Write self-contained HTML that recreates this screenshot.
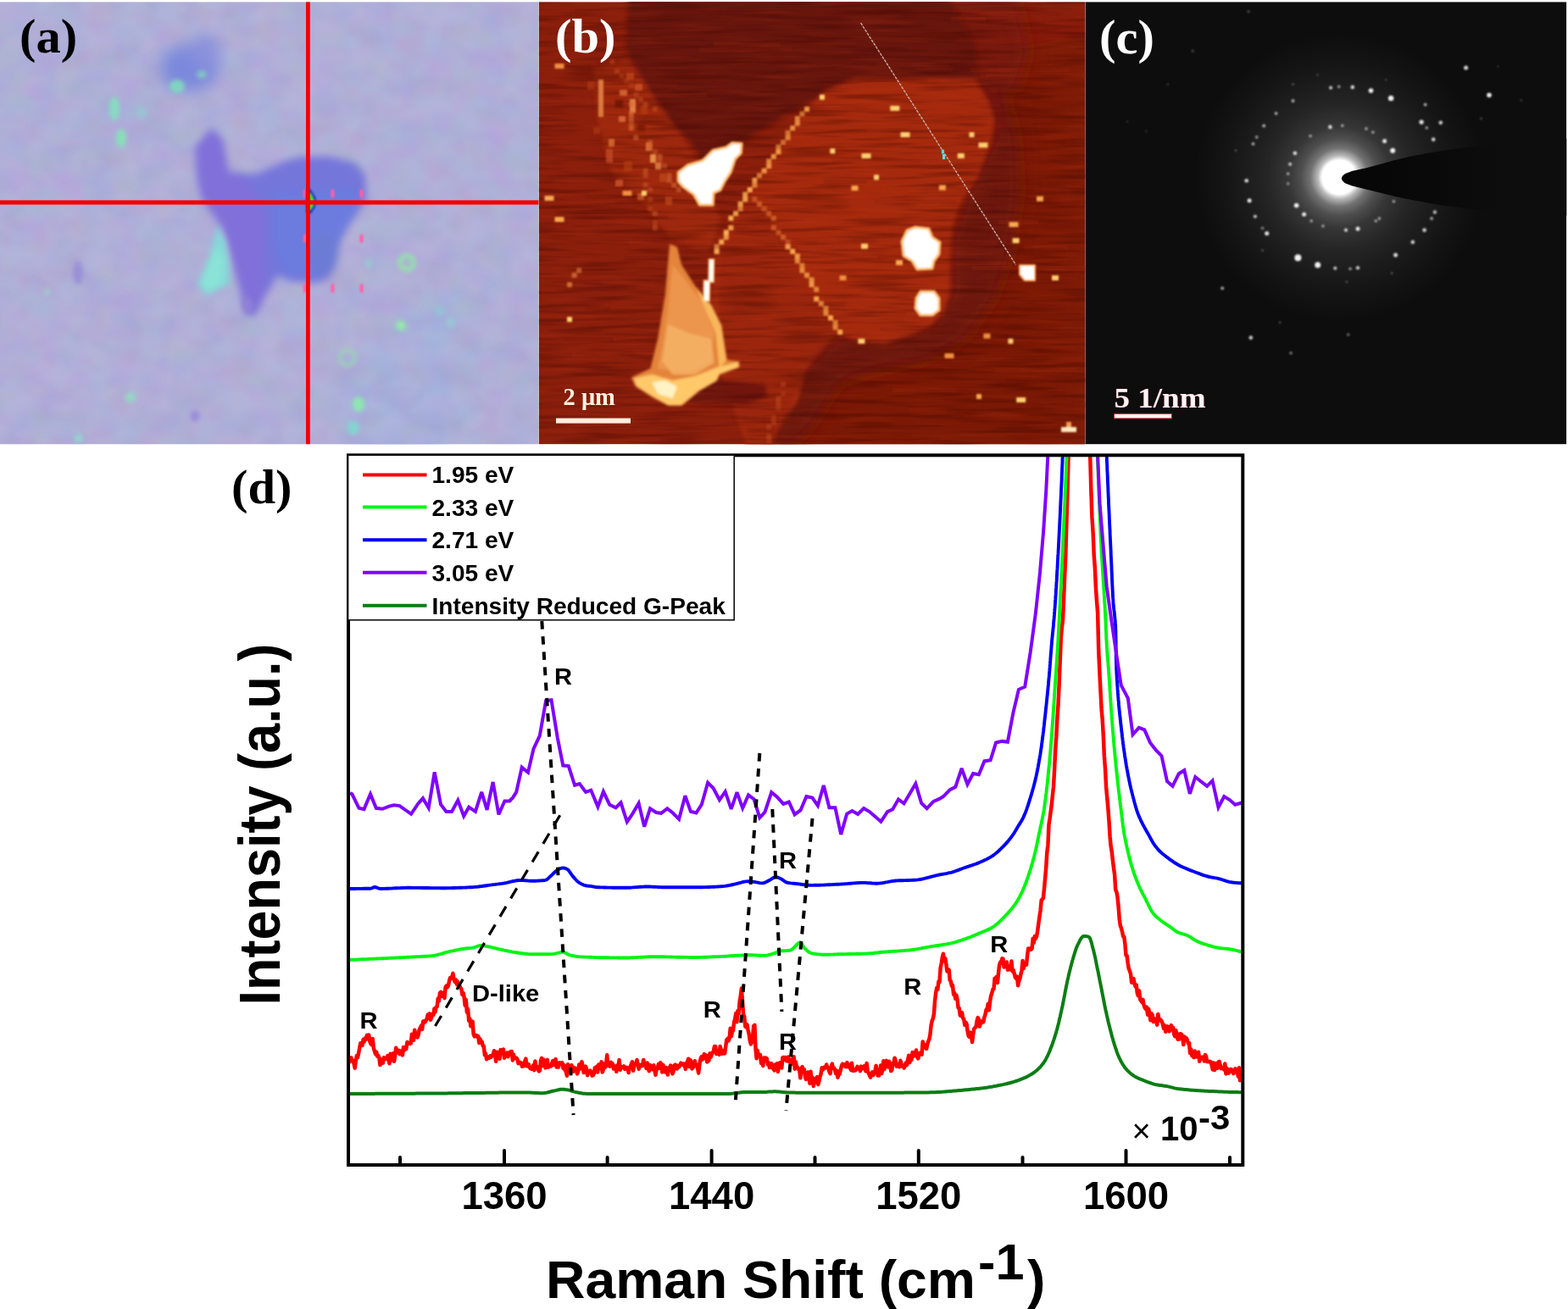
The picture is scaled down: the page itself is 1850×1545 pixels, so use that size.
<!DOCTYPE html>
<html lang="en"><head><meta charset="utf-8"><title>Figure</title>
<style>html,body{margin:0;padding:0;background:#fff;}body{width:1850px;height:1545px;overflow:hidden;}svg{display:block;}text{white-space:pre;}</style></head><body>
<svg width="1850" height="1545" viewBox="0 0 1850 1545">
<defs>
<filter id="blur1" x="-20%" y="-20%" width="140%" height="140%"><feGaussianBlur stdDeviation="0.8"/></filter>
<filter id="blur2" x="-20%" y="-20%" width="140%" height="140%"><feGaussianBlur stdDeviation="1.8"/></filter>
<filter id="blur3" x="-20%" y="-20%" width="140%" height="140%"><feGaussianBlur stdDeviation="2.6"/></filter>
<filter id="blur4" x="-30%" y="-30%" width="160%" height="160%"><feGaussianBlur stdDeviation="3.5"/></filter>
<filter id="blur5" x="-30%" y="-30%" width="160%" height="160%"><feGaussianBlur stdDeviation="5"/></filter>
<filter id="blur9" x="-50%" y="-50%" width="200%" height="200%"><feGaussianBlur stdDeviation="9"/></filter>
<filter id="blur12" x="-50%" y="-50%" width="200%" height="200%"><feGaussianBlur stdDeviation="11"/></filter>
<filter id="blur18" x="-50%" y="-50%" width="200%" height="200%"><feGaussianBlur stdDeviation="18"/></filter>
<filter id="nzA" x="0" y="0" width="100%" height="100%" color-interpolation-filters="sRGB"><feTurbulence type="fractalNoise" baseFrequency="0.03 0.035" numOctaves="2" seed="4"/><feColorMatrix type="matrix" values="1.6 0 0 0 -0.12  0 1.6 0 0 -0.13  0 0 1.6 0 0.05  0 0 0 0 0.055"/></filter>
<filter id="nzB" x="0" y="0" width="100%" height="100%" color-interpolation-filters="sRGB"><feTurbulence type="fractalNoise" baseFrequency="0.012 0.17" numOctaves="2" seed="9"/><feColorMatrix type="matrix" values="0 0 0 0 0.24  0 0 0 0 0.03  0 0 0 0 0.0  -3.2 0 0 0 1.75"/></filter>
<filter id="nzB2" x="0" y="0" width="100%" height="100%" color-interpolation-filters="sRGB"><feTurbulence type="fractalNoise" baseFrequency="0.014 0.17" numOctaves="2" seed="21"/><feColorMatrix type="matrix" values="0 0 0 0 0.86  0 0 0 0 0.26  0 0 0 0 0.1  -3.0 0 0 0 1.5"/></filter>
<radialGradient id="glowC"><stop offset="0" stop-color="#fff" stop-opacity="1"/>
<stop offset="0.115" stop-color="#fff" stop-opacity="1"/><stop offset="0.15" stop-color="#fff" stop-opacity="0.7"/>
<stop offset="0.2" stop-color="#fff" stop-opacity="0.42"/><stop offset="0.265" stop-color="#fff" stop-opacity="0.27"/>
<stop offset="0.35" stop-color="#fff" stop-opacity="0.17"/><stop offset="0.5" stop-color="#fff" stop-opacity="0.10"/>
<stop offset="0.635" stop-color="#fff" stop-opacity="0.065"/><stop offset="0.8" stop-color="#fff" stop-opacity="0.03"/>
<stop offset="1" stop-color="#fff" stop-opacity="0"/></radialGradient>
<radialGradient id="coreC"><stop offset="0" stop-color="#fff"/><stop offset="0.7" stop-color="#fff"/>
<stop offset="1" stop-color="#fff" stop-opacity="0"/></radialGradient>
<linearGradient id="wedgeC" gradientUnits="userSpaceOnUse" x1="1583" y1="0" x2="1848" y2="0">
<stop offset="0" stop-color="#060606"/><stop offset="0.4" stop-color="#090909"/>
<stop offset="0.7" stop-color="#0d0d0d"/><stop offset="1" stop-color="#0d0d0d"/></linearGradient>
</defs>
<rect x="0" y="0" width="1850" height="1545" fill="#ffffff"/>
<clipPath id="clipA"><rect x="0.0" y="2.2" width="635.7" height="522.1999999999999"/></clipPath>
<g clip-path="url(#clipA)">
<rect x="0.0" y="2.2" width="635.7" height="522.1999999999999" fill="#b0afd7"/>
<g filter="url(#blur18)">
<ellipse cx="470" cy="470" rx="80" ry="60" fill="#a2b0dc" opacity="0.6"/>
<ellipse cx="520" cy="375" rx="45" ry="30" fill="#a0b4dc" opacity="0.6"/>
<ellipse cx="130" cy="140" rx="60" ry="50" fill="#a8b0d8" opacity="0.5"/>
<ellipse cx="80" cy="420" rx="80" ry="60" fill="#b4aeda" opacity="0.5"/>
</g>
<rect x="0.0" y="2.2" width="635.7" height="522.1999999999999" filter="url(#nzA)"/>
<g filter="url(#blur9)">
<ellipse cx="224" cy="80" rx="35" ry="28" fill="#7a88dc"/>
<ellipse cx="243" cy="62" rx="18" ry="22" fill="#8a90dc"/>
</g>
<g filter="url(#blur5)">
<polygon points="249.2,150.8 230.2,173.2 231.9,207.8 237.1,233.8 252.6,254.5 261.3,268.4 269.9,294.3 276.9,320.3 283.8,346.2 290.7,372.2 301.1,372.2 314.9,346.2 327.0,325.5 344.3,332.4 370.3,334.1 387.6,328.9 396.2,311.6 401.4,285.7 410.1,268.4 422.2,251.1 432.5,233.8 430.8,206.1 418.7,192.3 387.6,184.5 353.0,185.4 335.7,190.5 301.1,206.1 269.9,202.6 263.0,164.6" fill="#7576da" />
<polygon points="249.2,152.5 231.9,175.0 233.6,207.8 238.8,233.8 261.3,264.9 276.9,318.5 290.7,368.7 301.1,368.7 311.5,346.2 311.5,251.1 290.7,211.3 269.9,204.4 263.0,166.3" fill="#8470d8" opacity="0.85"/>
<polygon points="321.8,226.9 418.7,219.9 422.2,247.6 401.4,282.2 392.8,313.4 370.3,328.9 335.7,323.7 321.8,285.7" fill="#6c7cde" opacity="0.9"/>
<ellipse cx="383" cy="300" rx="16" ry="26" fill="#6c7cd0" opacity="0.7"/>
</g>
<g filter="url(#blur4)">
<polygon points="257.0,266.6 249.2,294.3 233.6,335.8 244.0,348.8 269.9,335.8 270.8,311.6 266.5,285.7" fill="#84d8d8" />
<polygon points="254.4,294.3 237.1,334.1 245.7,344.5 261.3,334.1 264.8,303.0" fill="#8be4d6" opacity="0.9"/>
</g>
<g filter="url(#blur3)">
<ellipse cx="209" cy="102" rx="9" ry="8" fill="#7fd6c0" opacity="0.95"/>
<ellipse cx="238" cy="88" rx="6" ry="5" fill="#84cfc0" opacity="0.8"/>
<ellipse cx="135" cy="128" rx="6" ry="14" fill="#86dcc0" opacity="0.95"/>
<ellipse cx="143" cy="163" rx="6" ry="11" fill="#86e0b8" opacity="0.95"/>
<ellipse cx="167" cy="133" rx="6" ry="6" fill="#90cdd0" opacity="0.7"/>
<ellipse cx="473" cy="384.4" rx="6" ry="6" fill="#8ee2a8" opacity="1"/>
<ellipse cx="423" cy="477" rx="7" ry="9" fill="#8ee6b0" opacity="1"/>
<ellipse cx="417" cy="505" rx="7" ry="8" fill="#80d6d0" opacity="0.95"/>
<ellipse cx="154" cy="469" rx="6" ry="6" fill="#90dcc0" opacity="0.9"/>
<ellipse cx="92.5" cy="517.5" rx="5" ry="5" fill="#90dcc8" opacity="0.9"/>
<ellipse cx="56" cy="344.6" rx="4" ry="5" fill="#a0d0c8" opacity="0.7"/>
<ellipse cx="519" cy="367" rx="6" ry="6" fill="#90c8d4" opacity="0.7"/>
<ellipse cx="532" cy="381" rx="5" ry="7" fill="#90d0d0" opacity="0.7"/>
<ellipse cx="435" cy="311" rx="4" ry="6" fill="#90d0d0" opacity="0.7"/>
<ellipse cx="472.4" cy="383.4" rx="3" ry="3" fill="#a0f0b0" opacity="0.8"/>
<circle cx="480" cy="310" r="8" fill="none" stroke="#96dcae" stroke-width="6"/>
<circle cx="410" cy="422" r="9" fill="none" stroke="#9cd2b8" stroke-width="5" opacity="0.8"/>
<ellipse cx="92" cy="322" rx="6" ry="14" fill="#978fd8" opacity="0.9"/>
<ellipse cx="230" cy="491" rx="6" ry="7" fill="#9a8cd8" opacity="0.9"/>
<ellipse cx="292" cy="360" rx="7" ry="10" fill="#9080d8" opacity="0.8"/>
</g>
<g fill="#ff5fa8" filter="url(#blur1)">
<rect x="357.9" y="223.6" width="4" height="10" rx="1.5"/>
<rect x="357.9" y="276.4" width="4" height="10" rx="1.5"/>
<rect x="357.9" y="335.2" width="4" height="10" rx="1.5"/>
<rect x="390.4" y="223.6" width="4" height="10" rx="1.5"/>
<rect x="390.4" y="335.2" width="4" height="10" rx="1.5"/>
<rect x="424.5" y="223.6" width="4" height="10" rx="1.5"/>
<rect x="424.5" y="276.4" width="4" height="10" rx="1.5"/>
<rect x="424.5" y="335.2" width="4" height="10" rx="1.5"/>
</g>
<path d="M361,224 l5,-1 l7,11 l-1,10 l-5,8 l-6,-1 z" fill="#1b2fd0" filter="url(#blur1)"/>
<path d="M364,228 l3,0 l4,8 l-1,7 l-3,5 l-3,0 z" fill="#3ce030" filter="url(#blur1)"/>
<rect x="0.0" y="236.4" width="635.7" height="5.1" fill="#f40000"/>
<rect x="361.0" y="2.2" width="4.8" height="522.1999999999999" fill="#f40000"/>
<text transform="translate(23.0,62.0) scale(1.045,1.0)" font-family='"Liberation Serif", serif' font-weight="bold" font-size="56" fill="#000" text-anchor="start" >(a)</text>
</g>
<clipPath id="clipB"><rect x="635.7" y="2.2" width="644.5999999999999" height="522.1999999999999"/></clipPath>
<g clip-path="url(#clipB)">
<rect x="635.7" y="2.2" width="644.5999999999999" height="522.1999999999999" fill="#8b1f0c"/>
<g filter="url(#blur18)">
<polygon points="1175.0,60.0 1290.0,40.0 1290.0,540.0 900.0,540.0 930.0,470.0 1000.0,430.0 1120.0,400.0 1180.0,330.0 1195.0,200.0" fill="#701608" opacity="0.55"/>
</g>
<g filter="url(#blur12)">
<polygon points="1100.0,0.0 1200.0,0.0 1215.0,60.0 1200.0,110.0 1150.0,100.0 1100.0,95.0" fill="#74180a" opacity="0.85"/>
<polygon points="1150.0,95.0 1185.0,112.0 1200.0,160.0 1203.0,230.0 1192.0,300.0 1172.0,355.0 1140.0,400.0 1095.0,425.0 1040.0,436.0 990.0,452.0 962.0,498.0 938.0,524.0 905.0,524.0 940.0,440.0 990.0,395.0 1096.0,386.0 1121.0,345.0 1122.0,280.0 1140.0,228.0 1170.0,166.0 1173.0,140.0" fill="#6a1408" opacity="0.9"/>
</g>
<g filter="url(#blur3)">
<polygon points="741.0,0.0 1120.0,0.0 1150.0,50.0 1152.0,93.0 1008.0,93.0 960.0,118.0 890.0,158.0 850.0,185.0 838.0,200.0 812.0,164.0 786.0,139.0 764.0,102.0 738.0,58.0" fill="#68140a" />
<polygon points="1008.5,92.8 1150.4,92.8 1157.4,105.0 1166.0,119.0 1173.0,140.0 1169.7,166.4 1162.7,184.0 1154.0,210.0 1140.0,227.7 1131.0,245.0 1124.0,265.0 1122.4,280.0 1120.6,303.8 1121.0,345.0 1113.6,368.6 1096.0,386.0 1069.8,396.6 1043.6,405.4 1008.5,401.9 989.0,394.0 975.0,400.0 962.0,412.0 950.0,439.0 941.0,474.0 927.0,491.0 910.0,524.0 880.0,524.0 862.0,470.0 850.0,440.0 846.0,380.0 838.0,355.0 845.0,300.0 860.0,268.0 885.0,224.0 920.0,175.0 951.0,130.0 973.5,106.8" fill="#a52a10" />
<polygon points="850.0,300.0 885.0,230.0 930.0,290.0 985.0,392.0 950.0,440.0 912.0,520.0 882.0,520.0 862.0,470.0 848.0,380.0" fill="#98270f" opacity="0.8"/>
<polygon points="826.0,452.0 850.0,447.0 903.0,452.0 905.0,468.0 880.0,478.0 810.0,476.0" fill="#6e1508" opacity="0.9"/>
<polygon points="700.0,80.0 740.0,70.0 790.0,140.0 830.0,200.0 850.0,260.0 835.0,300.0 790.0,280.0 760.0,240.0 720.0,200.0 705.0,140.0" fill="#a02c12" opacity="0.85"/>
</g>
<g opacity="0.35">
<rect x="711" y="410" width="112" height="5" fill="#b03014" opacity="0.30"/>
<rect x="1178" y="260" width="48" height="5" fill="#b03014" opacity="0.58"/>
<rect x="999" y="446" width="101" height="5" fill="#6e1608" opacity="0.35"/>
<rect x="716" y="194" width="135" height="5" fill="#6e1608" opacity="0.43"/>
<rect x="1113" y="434" width="158" height="5" fill="#b03014" opacity="0.44"/>
<rect x="918" y="284" width="82" height="5" fill="#6e1608" opacity="0.33"/>
<rect x="1105" y="458" width="55" height="5" fill="#b03014" opacity="0.35"/>
<rect x="684" y="446" width="148" height="5" fill="#b03014" opacity="0.30"/>
<rect x="1029" y="44" width="148" height="5" fill="#b03014" opacity="0.26"/>
<rect x="753" y="110" width="81" height="5" fill="#b03014" opacity="0.57"/>
<rect x="1043" y="386" width="42" height="5" fill="#b03014" opacity="0.60"/>
<rect x="904" y="176" width="123" height="5" fill="#b03014" opacity="0.26"/>
<rect x="1130" y="44" width="77" height="5" fill="#b03014" opacity="0.28"/>
<rect x="737" y="302" width="43" height="5" fill="#6e1608" opacity="0.41"/>
<rect x="710" y="332" width="63" height="5" fill="#b03014" opacity="0.46"/>
<rect x="1159" y="380" width="43" height="5" fill="#6e1608" opacity="0.32"/>
<rect x="690" y="362" width="75" height="5" fill="#6e1608" opacity="0.42"/>
<rect x="1134" y="14" width="66" height="5" fill="#b03014" opacity="0.34"/>
<rect x="1208" y="194" width="81" height="5" fill="#b03014" opacity="0.36"/>
<rect x="1072" y="482" width="45" height="5" fill="#b03014" opacity="0.39"/>
<rect x="779" y="92" width="129" height="5" fill="#6e1608" opacity="0.48"/>
<rect x="1040" y="434" width="134" height="5" fill="#6e1608" opacity="0.30"/>
<rect x="1002" y="92" width="93" height="5" fill="#6e1608" opacity="0.56"/>
<rect x="1080" y="80" width="44" height="5" fill="#b03014" opacity="0.31"/>
<rect x="1220" y="80" width="69" height="5" fill="#b03014" opacity="0.27"/>
<rect x="1145" y="80" width="116" height="5" fill="#b03014" opacity="0.42"/>
<rect x="682" y="122" width="68" height="5" fill="#b03014" opacity="0.29"/>
<rect x="960" y="314" width="116" height="5" fill="#b03014" opacity="0.48"/>
<rect x="842" y="50" width="78" height="5" fill="#b03014" opacity="0.57"/>
<rect x="703" y="74" width="50" height="5" fill="#6e1608" opacity="0.59"/>
<rect x="1166" y="212" width="48" height="5" fill="#6e1608" opacity="0.49"/>
<rect x="720" y="362" width="96" height="5" fill="#b03014" opacity="0.53"/>
<rect x="1056" y="308" width="131" height="5" fill="#b03014" opacity="0.53"/>
<rect x="781" y="416" width="57" height="5" fill="#b03014" opacity="0.42"/>
<rect x="803" y="278" width="112" height="5" fill="#b03014" opacity="0.47"/>
<rect x="845" y="314" width="128" height="5" fill="#b03014" opacity="0.53"/>
<rect x="878" y="356" width="121" height="5" fill="#6e1608" opacity="0.34"/>
<rect x="1208" y="290" width="52" height="5" fill="#b03014" opacity="0.44"/>
<rect x="652" y="254" width="136" height="5" fill="#6e1608" opacity="0.47"/>
<rect x="1163" y="86" width="131" height="5" fill="#b03014" opacity="0.48"/>
<rect x="835" y="260" width="86" height="5" fill="#b03014" opacity="0.56"/>
<rect x="1039" y="386" width="129" height="5" fill="#6e1608" opacity="0.52"/>
<rect x="898" y="494" width="48" height="5" fill="#6e1608" opacity="0.54"/>
<rect x="1048" y="296" width="136" height="5" fill="#b03014" opacity="0.56"/>
<rect x="699" y="260" width="85" height="5" fill="#b03014" opacity="0.47"/>
<rect x="902" y="452" width="91" height="5" fill="#6e1608" opacity="0.30"/>
<rect x="996" y="98" width="103" height="5" fill="#b03014" opacity="0.30"/>
<rect x="935" y="218" width="143" height="5" fill="#b03014" opacity="0.25"/>
<rect x="675" y="416" width="157" height="5" fill="#b03014" opacity="0.60"/>
<rect x="949" y="242" width="54" height="5" fill="#b03014" opacity="0.32"/>
<rect x="1053" y="458" width="75" height="5" fill="#b03014" opacity="0.55"/>
<rect x="1084" y="284" width="92" height="5" fill="#b03014" opacity="0.51"/>
<rect x="1203" y="434" width="59" height="5" fill="#b03014" opacity="0.43"/>
<rect x="677" y="44" width="46" height="5" fill="#b03014" opacity="0.39"/>
<rect x="1068" y="356" width="44" height="5" fill="#b03014" opacity="0.41"/>
<rect x="1147" y="314" width="150" height="5" fill="#b03014" opacity="0.56"/>
<rect x="1179" y="158" width="130" height="5" fill="#b03014" opacity="0.30"/>
<rect x="972" y="212" width="50" height="5" fill="#6e1608" opacity="0.53"/>
<rect x="1171" y="236" width="54" height="5" fill="#6e1608" opacity="0.55"/>
<rect x="1201" y="236" width="111" height="5" fill="#6e1608" opacity="0.38"/>
<rect x="743" y="284" width="126" height="5" fill="#b03014" opacity="0.49"/>
<rect x="929" y="152" width="94" height="5" fill="#6e1608" opacity="0.31"/>
<rect x="920" y="134" width="152" height="5" fill="#b03014" opacity="0.37"/>
<rect x="734" y="86" width="111" height="5" fill="#b03014" opacity="0.29"/>
<rect x="655" y="248" width="110" height="5" fill="#6e1608" opacity="0.57"/>
<rect x="1169" y="206" width="152" height="5" fill="#6e1608" opacity="0.42"/>
<rect x="942" y="308" width="88" height="5" fill="#b03014" opacity="0.53"/>
<rect x="780" y="206" width="44" height="5" fill="#b03014" opacity="0.50"/>
<rect x="891" y="50" width="119" height="5" fill="#b03014" opacity="0.25"/>
<rect x="982" y="188" width="104" height="5" fill="#6e1608" opacity="0.40"/>
<rect x="1095" y="134" width="43" height="5" fill="#6e1608" opacity="0.33"/>
<rect x="675" y="14" width="55" height="5" fill="#b03014" opacity="0.37"/>
<rect x="965" y="284" width="84" height="5" fill="#b03014" opacity="0.45"/>
<rect x="637" y="458" width="86" height="5" fill="#b03014" opacity="0.39"/>
<rect x="665" y="398" width="115" height="5" fill="#6e1608" opacity="0.59"/>
<rect x="843" y="290" width="119" height="5" fill="#b03014" opacity="0.33"/>
<rect x="1156" y="476" width="153" height="5" fill="#6e1608" opacity="0.57"/>
<rect x="711" y="386" width="42" height="5" fill="#b03014" opacity="0.39"/>
<rect x="1038" y="38" width="102" height="5" fill="#6e1608" opacity="0.27"/>
<rect x="1032" y="230" width="46" height="5" fill="#b03014" opacity="0.50"/>
<rect x="1035" y="302" width="75" height="5" fill="#6e1608" opacity="0.35"/>
<rect x="654" y="212" width="70" height="5" fill="#b03014" opacity="0.53"/>
<rect x="707" y="458" width="66" height="5" fill="#b03014" opacity="0.45"/>
<rect x="816" y="500" width="86" height="5" fill="#b03014" opacity="0.39"/>
<rect x="650" y="98" width="149" height="5" fill="#b03014" opacity="0.34"/>
<rect x="1033" y="122" width="146" height="5" fill="#b03014" opacity="0.38"/>
<rect x="1053" y="230" width="114" height="5" fill="#b03014" opacity="0.31"/>
<rect x="1079" y="410" width="125" height="5" fill="#6e1608" opacity="0.52"/>
<rect x="882" y="506" width="147" height="5" fill="#6e1608" opacity="0.45"/>
<rect x="1034" y="74" width="86" height="5" fill="#b03014" opacity="0.45"/>
<rect x="918" y="368" width="152" height="5" fill="#6e1608" opacity="0.39"/>
<rect x="853" y="368" width="151" height="5" fill="#b03014" opacity="0.53"/>
<rect x="690" y="230" width="102" height="5" fill="#6e1608" opacity="0.56"/>
<rect x="725" y="236" width="114" height="5" fill="#6e1608" opacity="0.30"/>
<rect x="1123" y="422" width="155" height="5" fill="#b03014" opacity="0.43"/>
<rect x="825" y="290" width="117" height="5" fill="#6e1608" opacity="0.43"/>
<rect x="826" y="122" width="85" height="5" fill="#6e1608" opacity="0.41"/>
<rect x="914" y="260" width="71" height="5" fill="#b03014" opacity="0.58"/>
<rect x="819" y="56" width="111" height="5" fill="#6e1608" opacity="0.31"/>
<rect x="1186" y="446" width="133" height="5" fill="#6e1608" opacity="0.50"/>
<rect x="1058" y="290" width="116" height="5" fill="#b03014" opacity="0.26"/>
<rect x="1031" y="236" width="97" height="5" fill="#6e1608" opacity="0.34"/>
<rect x="1114" y="404" width="148" height="5" fill="#6e1608" opacity="0.31"/>
<rect x="732" y="506" width="67" height="5" fill="#b03014" opacity="0.29"/>
<rect x="724" y="398" width="152" height="5" fill="#b03014" opacity="0.47"/>
<rect x="901" y="14" width="129" height="5" fill="#6e1608" opacity="0.38"/>
<rect x="949" y="248" width="74" height="5" fill="#b03014" opacity="0.36"/>
<rect x="825" y="56" width="109" height="5" fill="#b03014" opacity="0.36"/>
<rect x="1122" y="20" width="41" height="5" fill="#b03014" opacity="0.55"/>
<rect x="1006" y="14" width="127" height="5" fill="#6e1608" opacity="0.33"/>
</g>
<rect x="635.7" y="2.2" width="644.5999999999999" height="522.1999999999999" filter="url(#nzB)" opacity="0.32"/>
<rect x="635.7" y="2.2" width="644.5999999999999" height="522.1999999999999" filter="url(#nzB2)" opacity="0.13"/>
<g filter="url(#blur2)">
<polygon points="790.1,288.0 784.9,347.6 776.1,400.1 767.4,435.1 744.6,445.6 749.8,456.2 769.1,468.4 788.4,478.9 804.1,478.9 825.1,461.4 846.2,449.1 849.7,440.4 872.4,433.4 872.4,426.4 856.7,424.6 849.7,382.6 837.4,358.1 819.9,337.1 804.1,312.5 798.9,291.5" fill="#e4843a" />
<polygon points="793.6,312.5 788.4,365.1 781.4,408.9 776.1,435.1 811.1,438.6 837.4,426.4 842.7,393.1 828.6,358.1 807.6,330.1" fill="#ec9850" opacity="0.9"/>
<polygon points="748.1,446.5 769.1,442.1 793.6,449.1 819.9,443.9 846.2,433.4 870.7,427.3 871.6,433.4 848.8,442.1 844.4,450.0 824.3,461.4 804.1,478.0 788.4,478.0 769.1,467.5 750.7,455.3" fill="#ffc868" />
<polygon points="769.1,450.9 784.9,449.1 798.9,456.2 793.6,470.2 776.1,464.9" fill="#fff2c4" />
<polygon points="788.4,382.6 781.4,426.4 793.6,442.1 819.9,442.1 842.7,428.1 839.2,400.1 811.1,393.1" fill="#f6b468" opacity="0.8"/>
<polygon points="821.6,340.6 839.2,359.8 851.4,384.3 857.5,424.6 848.8,435.1 844.4,393.1 830.4,361.6" fill="#fbbc60" opacity="0.9"/>
</g>
<g filter="url(#blur1)">
<polygon points="863.9,168.4 875.2,169.3 874.4,180.7 867.4,187.7 862.1,203.4 855.2,213.9 849.9,224.4 842.0,227.9 841.2,241.9 825.4,241.9 818.4,229.6 806.2,220.9 800.1,213.9 800.1,203.4 811.5,194.7 828.9,189.4 841.2,177.2 856.9,173.7" fill="#ffffff" stroke="#ffc070" stroke-width="3" stroke-linejoin="round"/>
<polygon points="1064.0,285.0 1070.0,272.0 1080.0,268.0 1096.0,270.0 1100.0,280.0 1109.0,286.0 1108.0,300.0 1102.0,308.0 1100.0,317.0 1082.0,318.0 1076.0,308.0 1066.0,302.0" fill="#ffffff" stroke="#ffc070" stroke-width="3" stroke-linejoin="round"/>
<polygon points="1086.0,344.0 1102.0,344.0 1108.0,352.0 1108.0,366.0 1100.0,372.0 1086.0,372.0 1080.0,364.0 1081.0,352.0" fill="#ffffff" stroke="#ffc070" stroke-width="3" stroke-linejoin="round"/>
<polygon points="1203.0,313.0 1221.0,313.0 1221.0,331.0 1209.0,331.0 1203.0,324.0" fill="#ffffff" stroke="#ffb060" stroke-width="2" stroke-linejoin="round"/>
<polygon points="836.5,306.0 842.5,306.0 842.0,333.0 837.5,333.0 837.0,355.5 830.0,355.5 830.5,331.0 836.0,331.0" fill="#ffffff" stroke="#ffc070" stroke-width="1.5"/>
</g>
<g filter="url(#blur1)">
<rect x="949.0" y="125.8" width="6" height="6" fill="#f5a048" opacity="0.92"/>
<rect x="943.4" y="131.4" width="6" height="6" fill="#f5a048" opacity="0.66"/>
<rect x="937.8" y="137.0" width="6" height="6" fill="#f5a048" opacity="0.77"/>
<rect x="937.8" y="142.6" width="6" height="6" fill="#f5a048" opacity="0.83"/>
<rect x="932.2" y="148.2" width="6" height="6" fill="#f5a048" opacity="0.87"/>
<rect x="926.6" y="153.8" width="6" height="6" fill="#f5a048" opacity="0.66"/>
<rect x="926.6" y="159.4" width="6" height="6" fill="#f5a048" opacity="0.75"/>
<rect x="921.0" y="165.0" width="6" height="6" fill="#f5a048" opacity="0.59"/>
<rect x="915.4" y="170.6" width="6" height="6" fill="#f5a048" opacity="0.68"/>
<rect x="915.4" y="176.2" width="6" height="6" fill="#f5a048" opacity="0.94"/>
<rect x="909.8" y="181.8" width="6" height="6" fill="#f5a048" opacity="0.91"/>
<rect x="904.2" y="187.4" width="6" height="6" fill="#f5a048" opacity="0.79"/>
<rect x="904.2" y="193.0" width="6" height="6" fill="#f5a048" opacity="0.87"/>
<rect x="898.6" y="198.6" width="6" height="6" fill="#f5a048" opacity="0.91"/>
<rect x="893.0" y="204.2" width="6" height="6" fill="#f5a048" opacity="0.70"/>
<rect x="887.4" y="209.8" width="6" height="6" fill="#f5a048" opacity="0.94"/>
<rect x="887.4" y="215.4" width="6" height="6" fill="#f5a048" opacity="0.74"/>
<rect x="881.8" y="221.0" width="6" height="6" fill="#f5a048" opacity="0.63"/>
<rect x="881.8" y="221.0" width="6" height="6" fill="#ffb858" opacity="0.77"/>
<rect x="876.2" y="226.6" width="6" height="6" fill="#ffb858" opacity="0.80"/>
<rect x="876.2" y="232.2" width="6" height="6" fill="#ffb858" opacity="0.83"/>
<rect x="870.6" y="237.8" width="6" height="6" fill="#ffb858" opacity="0.82"/>
<rect x="870.6" y="243.4" width="6" height="6" fill="#ffb858" opacity="0.59"/>
<rect x="865.0" y="249.0" width="6" height="6" fill="#ffb858" opacity="0.81"/>
<rect x="859.4" y="254.6" width="6" height="6" fill="#ffb858" opacity="0.92"/>
<rect x="859.4" y="265.8" width="6" height="6" fill="#ffb858" opacity="0.82"/>
<rect x="853.8" y="271.4" width="6" height="6" fill="#ffb858" opacity="0.94"/>
<rect x="853.8" y="277.0" width="6" height="6" fill="#ffb858" opacity="0.76"/>
<rect x="848.2" y="282.6" width="6" height="6" fill="#ffb858" opacity="0.88"/>
<rect x="842.6" y="288.2" width="6" height="6" fill="#ffb858" opacity="0.62"/>
<rect x="842.6" y="293.8" width="6" height="6" fill="#ffb858" opacity="0.91"/>
<rect x="887.4" y="232.2" width="6" height="6" fill="#d86a30" opacity="0.62"/>
<rect x="893.0" y="237.8" width="6" height="6" fill="#d86a30" opacity="0.76"/>
<rect x="898.6" y="243.4" width="6" height="6" fill="#d86a30" opacity="0.58"/>
<rect x="904.2" y="249.0" width="6" height="6" fill="#d86a30" opacity="0.68"/>
<rect x="909.8" y="254.6" width="6" height="6" fill="#d86a30" opacity="0.75"/>
<rect x="909.8" y="265.8" width="6" height="6" fill="#d86a30" opacity="0.71"/>
<rect x="915.4" y="271.4" width="6" height="6" fill="#d86a30" opacity="0.68"/>
<rect x="921.0" y="277.0" width="6" height="6" fill="#d86a30" opacity="0.79"/>
<rect x="926.6" y="282.6" width="6" height="6" fill="#d86a30" opacity="0.51"/>
<rect x="926.6" y="288.2" width="6" height="6" fill="#d86a30" opacity="0.51"/>
<rect x="926.6" y="288.2" width="6" height="6" fill="#ffb050" opacity="0.78"/>
<rect x="932.2" y="293.8" width="6" height="6" fill="#ffb050" opacity="0.93"/>
<rect x="937.8" y="299.4" width="6" height="6" fill="#ffb050" opacity="0.83"/>
<rect x="937.8" y="305.0" width="6" height="6" fill="#ffb050" opacity="0.69"/>
<rect x="943.4" y="310.6" width="6" height="6" fill="#ffb050" opacity="0.61"/>
<rect x="943.4" y="316.2" width="6" height="6" fill="#ffb050" opacity="0.74"/>
<rect x="949.0" y="321.8" width="6" height="6" fill="#ffb050" opacity="0.75"/>
<rect x="954.6" y="327.4" width="6" height="6" fill="#ffb050" opacity="0.75"/>
<rect x="954.6" y="333.0" width="6" height="6" fill="#ffb050" opacity="0.81"/>
<rect x="960.2" y="338.6" width="6" height="6" fill="#ffb050" opacity="0.67"/>
<rect x="960.2" y="349.8" width="6" height="6" fill="#ffb050" opacity="0.90"/>
<rect x="965.8" y="355.4" width="6" height="6" fill="#ffb050" opacity="0.68"/>
<rect x="971.4" y="361.0" width="6" height="6" fill="#ffb050" opacity="0.61"/>
<rect x="971.4" y="366.6" width="6" height="6" fill="#ffb050" opacity="0.70"/>
<rect x="977.0" y="372.2" width="6" height="6" fill="#ffb050" opacity="0.93"/>
<rect x="982.6" y="377.8" width="6" height="6" fill="#ffb050" opacity="0.63"/>
<rect x="982.6" y="383.4" width="6" height="6" fill="#ffb050" opacity="0.68"/>
<rect x="988.2" y="389.0" width="6" height="6" fill="#ffb050" opacity="0.92"/>
<rect x="706" y="94" width="6" height="44" fill="#e88848" opacity="0.85"/>
<rect x="743" y="117" width="7" height="16" fill="#ee9050" opacity="0.85"/>
<rect x="731" y="106" width="9" height="7" fill="#e07038" opacity="0.8"/>
<rect x="730" y="137" width="8" height="7" fill="#e07038" opacity="0.8"/>
<rect x="749" y="99" width="9" height="8" fill="#d05828" opacity="0.7"/>
<rect x="739" y="86" width="9" height="8" fill="#c84c20" opacity="0.7"/>
<rect x="718" y="164" width="7" height="9" fill="#e07838" opacity="0.75"/>
<rect x="762" y="168" width="7" height="10" fill="#e88040" opacity="0.8"/>
<rect x="767" y="182" width="7" height="10" fill="#f0a050" opacity="0.85"/>
<rect x="773" y="192" width="7" height="8" fill="#e88848" opacity="0.8"/>
<rect x="726" y="212" width="9" height="8" fill="#d86030" opacity="0.7"/>
<rect x="715" y="176" width="8" height="16" fill="#c85028" opacity="0.7"/>
<rect x="726" y="118" width="9" height="9" fill="#641006" opacity="0.7"/>
<rect x="752" y="146" width="9" height="9" fill="#6a1206" opacity="0.6"/>
<rect x="693" y="96" width="8" height="10" fill="#b43c18" opacity="0.6"/>
<rect x="778" y="205" width="8" height="10" fill="#c04820" opacity="0.7"/>
<rect x="736" y="190" width="10" height="12" fill="#b84018" opacity="0.6"/>
<rect x="752" y="228" width="8" height="8" fill="#d06028" opacity="0.7"/>
<rect x="785" y="232" width="8" height="10" fill="#c85020" opacity="0.6"/>
<rect x="700" y="150" width="8" height="8" fill="#b03c18" opacity="0.6"/>
<rect x="756" y="125" width="8" height="10" fill="#b84018" opacity="0.6"/>
<rect x="764.2" y="165.0" width="6" height="6" fill="#d06030" opacity="0.52"/>
<rect x="764.2" y="170.6" width="6" height="6" fill="#d06030" opacity="0.66"/>
<rect x="769.8" y="176.2" width="6" height="6" fill="#d06030" opacity="0.43"/>
<rect x="775.4" y="181.8" width="6" height="6" fill="#d06030" opacity="0.67"/>
<rect x="775.4" y="187.4" width="6" height="6" fill="#d06030" opacity="0.49"/>
<rect x="781.0" y="193.0" width="6" height="6" fill="#d06030" opacity="0.47"/>
<rect x="786.6" y="204.2" width="6" height="6" fill="#d06030" opacity="0.63"/>
<rect x="786.6" y="209.8" width="6" height="6" fill="#d06030" opacity="0.70"/>
<rect x="792.2" y="215.4" width="6" height="6" fill="#d06030" opacity="0.69"/>
<rect x="797.8" y="221.0" width="6" height="6" fill="#d06030" opacity="0.63"/>
<rect x="741.8" y="120.2" width="6" height="6" fill="#d86c34" opacity="0.68"/>
<rect x="741.8" y="131.4" width="6" height="6" fill="#d86c34" opacity="0.70"/>
<rect x="741.8" y="137.0" width="6" height="6" fill="#d86c34" opacity="0.57"/>
<rect x="741.8" y="142.6" width="6" height="6" fill="#d86c34" opacity="0.46"/>
<rect x="741.8" y="148.2" width="6" height="6" fill="#d86c34" opacity="0.66"/>
<rect x="747.4" y="159.4" width="6" height="6" fill="#d86c34" opacity="0.53"/>
<rect x="719.4" y="69.8" width="6" height="6" fill="#c04c20" opacity="0.44"/>
<rect x="725.0" y="81.0" width="6" height="6" fill="#c04c20" opacity="0.48"/>
<rect x="730.6" y="86.6" width="6" height="6" fill="#c04c20" opacity="0.37"/>
<rect x="736.2" y="92.2" width="6" height="6" fill="#c04c20" opacity="0.36"/>
<rect x="741.8" y="97.8" width="6" height="6" fill="#c04c20" opacity="0.42"/>
<rect x="747.4" y="109.0" width="6" height="6" fill="#c04c20" opacity="0.50"/>
<rect x="753.0" y="114.6" width="6" height="6" fill="#c04c20" opacity="0.54"/>
<rect x="758.6" y="120.2" width="6" height="6" fill="#c04c20" opacity="0.59"/>
<rect x="769.8" y="125.8" width="6" height="6" fill="#c04c20" opacity="0.56"/>
<rect x="758.6" y="198.6" width="6" height="6" fill="#c85828" opacity="0.59"/>
<rect x="758.6" y="204.2" width="6" height="6" fill="#c85828" opacity="0.51"/>
<rect x="758.6" y="215.4" width="6" height="6" fill="#c85828" opacity="0.54"/>
<rect x="764.2" y="221.0" width="6" height="6" fill="#c85828" opacity="0.50"/>
<rect x="764.2" y="232.2" width="6" height="6" fill="#c85828" opacity="0.38"/>
<rect x="764.2" y="243.4" width="6" height="6" fill="#c85828" opacity="0.37"/>
<rect x="769.8" y="249.0" width="6" height="6" fill="#c85828" opacity="0.54"/>
<rect x="769.8" y="260.2" width="6" height="6" fill="#c85828" opacity="0.41"/>
<rect x="769.8" y="265.8" width="6" height="6" fill="#c85828" opacity="0.55"/>
<rect x="921.0" y="450.6" width="6" height="6" fill="#c04c20" opacity="0.47"/>
<rect x="921.0" y="461.8" width="6" height="6" fill="#c04c20" opacity="0.36"/>
<rect x="915.4" y="467.4" width="6" height="6" fill="#c04c20" opacity="0.49"/>
<rect x="915.4" y="473.0" width="6" height="6" fill="#c04c20" opacity="0.47"/>
<rect x="915.4" y="478.6" width="6" height="6" fill="#c04c20" opacity="0.38"/>
<rect x="909.8" y="489.8" width="6" height="6" fill="#c04c20" opacity="0.42"/>
<rect x="909.8" y="495.4" width="6" height="6" fill="#c04c20" opacity="0.43"/>
<rect x="904.2" y="501.0" width="6" height="6" fill="#c04c20" opacity="0.44"/>
<rect x="904.2" y="512.2" width="6" height="6" fill="#c04c20" opacity="0.53"/>
<rect x="904.2" y="517.8" width="6" height="6" fill="#c04c20" opacity="0.40"/>
<rect x="680.2" y="316.2" width="6" height="6" fill="#e08040" opacity="0.62"/>
<rect x="674.6" y="321.8" width="6" height="6" fill="#e08040" opacity="0.67"/>
<rect x="669.0" y="333.0" width="6" height="6" fill="#e08040" opacity="0.78"/>
<rect x="1050.3" y="124.8" width="11" height="6" fill="#ffd070"/>
<rect x="1143.5" y="156.0" width="6" height="6" fill="#ffd070"/>
<rect x="1154.5" y="168.3" width="11" height="6" fill="#ffd070"/>
<rect x="1129.8" y="180.9" width="8" height="6" fill="#ffd070"/>
<rect x="979.3" y="175.3" width="6" height="6" fill="#ffd070"/>
<rect x="1062.5" y="156.0" width="11" height="6" fill="#ffd070"/>
<rect x="1016.5" y="181.0" width="11" height="6" fill="#ffd070"/>
<rect x="1031.0" y="206.3" width="6" height="6" fill="#ffd070"/>
<rect x="1004.5" y="219.0" width="8" height="6" fill="#f8a850"/>
<rect x="1107.9" y="218.5" width="8" height="6" fill="#f8a850"/>
<rect x="1223.0" y="231.7" width="8" height="6" fill="#f8a850"/>
<rect x="967.0" y="111.7" width="6" height="6" fill="#ffd070"/>
<rect x="1241.0" y="325.0" width="8" height="6" fill="#ffd070"/>
<rect x="1194.6" y="281.0" width="8" height="6" fill="#ffd070"/>
<rect x="1016.0" y="287.6" width="8" height="6" fill="#ffd070"/>
<rect x="1057.0" y="307.0" width="8" height="6" fill="#f8a850"/>
<rect x="990.5" y="325.0" width="8" height="6" fill="#f09040"/>
<rect x="1160.4" y="393.6" width="8" height="6" fill="#f09040"/>
<rect x="1189.4" y="399.7" width="6" height="6" fill="#ffd070"/>
<rect x="1012.4" y="399.7" width="8" height="6" fill="#ffd070"/>
<rect x="1199.2" y="469.0" width="11" height="6" fill="#ffd070"/>
<rect x="642.5" y="231.0" width="11" height="6" fill="#f8a850"/>
<rect x="654.5" y="256.0" width="11" height="6" fill="#f8a850"/>
<rect x="734.5" y="225.0" width="11" height="6" fill="#f09040"/>
<rect x="757.0" y="225.0" width="6" height="6" fill="#ffd070"/>
<rect x="669.0" y="374.0" width="6" height="6" fill="#ffd070"/>
<rect x="654.5" y="75.0" width="11" height="6" fill="#f09040"/>
<rect x="1190.5" y="262.0" width="11" height="6" fill="#f8a850"/>
<rect x="1152.0" y="465.0" width="6" height="6" fill="#f8a850"/>
<rect x="1114.5" y="417.0" width="11" height="6" fill="#f09040"/>
<rect x="1252" y="504" width="18" height="6" fill="#ffe8c0"/>
<rect x="1258" y="498" width="6" height="6" fill="#f0a050"/>
</g>
<line x1="1015.5" y1="27" x2="1198.6" y2="312.5" stroke="#cdb0a6" stroke-width="1.5" stroke-dasharray="3.5 1.2" opacity="0.9"/>
<rect x="1110.8" y="176.5" width="3.2" height="5" fill="#58d0e8"/><rect x="1112" y="182" width="3.2" height="6" fill="#5ce0ea"/>
<rect x="656" y="493.6" width="88" height="6" fill="#ffeede"/>
<text transform="translate(664.5,478.2)" font-family='"Liberation Serif", serif' font-weight="bold" font-size="28.5" fill="#fff0e0" text-anchor="start" >2 μm</text>
<text transform="translate(655.0,62.2) scale(1.045,1.0)" font-family='"Liberation Serif", serif' font-weight="bold" font-size="56" fill="#ffffff" text-anchor="start" >(b)</text>
</g>
<clipPath id="clipC"><rect x="1280.3" y="2.2" width="568.0" height="522.1999999999999"/></clipPath>
<g clip-path="url(#clipC)">
<rect x="1280.3" y="2.2" width="568.0" height="522.1999999999999" fill="#0d0d0d"/>
<circle cx="1580.4" cy="209.2" r="172" fill="url(#glowC)"/>
<ellipse cx="1579.4" cy="209.2" rx="23" ry="22.5" fill="url(#coreC)"/>
<path d="M1582.7,210.6 L1583.9,207.7 L1587.0,205.1 L1595.7,201.8 L1613.0,198.1 L1630.3,193.3 L1647.6,188.6 L1664.9,184.6 L1682.2,181.2 L1699.5,178.2 L1716.8,175.7 L1734.1,173.6 L1760.0,171.0 L1855.1,163.0 L1855.1,254.7 L1760.0,249.2 L1734.1,246.4 L1716.8,244.3 L1699.5,241.9 L1682.2,239.1 L1664.9,235.8 L1647.6,232.2 L1630.3,228.1 L1613.0,223.7 L1595.7,219.4 L1587.0,216.3 L1583.9,213.5Z" fill="url(#wedgeC)"/>
<g fill="#fff" filter="url(#blur1)">
<circle cx="1527.9" cy="180.8" r="2.3" opacity="0.85"/>
<circle cx="1522.1" cy="193.8" r="2.0" opacity="0.76"/>
<circle cx="1519.7" cy="205.1" r="1.8" opacity="0.57"/>
<circle cx="1519.7" cy="216.8" r="1.8" opacity="0.47"/>
<circle cx="1529.6" cy="242.5" r="2.8" opacity="0.95"/>
<circle cx="1538.6" cy="253.1" r="2.5" opacity="0.90"/>
<circle cx="1547.1" cy="260.7" r="1.8" opacity="0.57"/>
<circle cx="1560.9" cy="266.8" r="1.8" opacity="0.57"/>
<circle cx="1588.0" cy="271.6" r="2.1" opacity="0.81"/>
<circle cx="1602.0" cy="269.9" r="2.5" opacity="0.90"/>
<circle cx="1623.3" cy="260.7" r="1.8" opacity="0.57"/>
<circle cx="1627.4" cy="257.9" r="1.8" opacity="0.57"/>
<circle cx="1644.5" cy="237.7" r="1.8" opacity="0.57"/>
<circle cx="1643.2" cy="177.7" r="3.0" opacity="0.95"/>
<circle cx="1633.6" cy="166.4" r="2.5" opacity="0.90"/>
<circle cx="1619.9" cy="156.1" r="1.8" opacity="0.57"/>
<circle cx="1612.0" cy="151.9" r="1.8" opacity="0.57"/>
<circle cx="1583.8" cy="148.2" r="1.8" opacity="0.57"/>
<circle cx="1569.4" cy="149.9" r="2.3" opacity="0.85"/>
<circle cx="1546.1" cy="160.5" r="1.8" opacity="0.57"/>
<circle cx="1470.7" cy="213.3" r="2.3" opacity="0.85"/>
<circle cx="1474.1" cy="236.7" r="2.5" opacity="0.90"/>
<circle cx="1480.9" cy="255.5" r="2.1" opacity="0.76"/>
<circle cx="1489.5" cy="269.2" r="1.8" opacity="0.47"/>
<circle cx="1494.7" cy="275.4" r="2.5" opacity="0.90"/>
<circle cx="1531.4" cy="304.2" r="4.0" opacity="0.95"/>
<circle cx="1554.7" cy="312.8" r="3.5" opacity="0.95"/>
<circle cx="1575.3" cy="316.6" r="2.1" opacity="0.76"/>
<circle cx="1593.1" cy="317.3" r="1.8" opacity="0.57"/>
<circle cx="1602.0" cy="316.2" r="2.1" opacity="0.81"/>
<circle cx="1646.6" cy="301.1" r="2.5" opacity="0.85"/>
<circle cx="1666.8" cy="285.7" r="2.3" opacity="0.81"/>
<circle cx="1680.6" cy="271.6" r="2.3" opacity="0.81"/>
<circle cx="1689.1" cy="257.9" r="1.8" opacity="0.66"/>
<circle cx="1692.9" cy="250.4" r="2.1" opacity="0.76"/>
<circle cx="1691.2" cy="164.6" r="2.3" opacity="0.81"/>
<circle cx="1699.8" cy="144.7" r="2.3" opacity="0.81"/>
<circle cx="1677.1" cy="144.1" r="2.6" opacity="0.90"/>
<circle cx="1683.3" cy="150.9" r="1.8" opacity="0.57"/>
<circle cx="1681.6" cy="123.5" r="1.9" opacity="0.66"/>
<circle cx="1641.1" cy="115.9" r="3.2" opacity="0.95"/>
<circle cx="1617.5" cy="107.0" r="2.8" opacity="0.95"/>
<circle cx="1595.8" cy="102.9" r="2.3" opacity="0.81"/>
<circle cx="1579.7" cy="102.2" r="1.8" opacity="0.57"/>
<circle cx="1570.1" cy="103.6" r="2.1" opacity="0.76"/>
<circle cx="1525.5" cy="119.0" r="1.9" opacity="0.66"/>
<circle cx="1505.6" cy="133.8" r="1.9" opacity="0.66"/>
<circle cx="1491.2" cy="148.5" r="1.9" opacity="0.66"/>
<circle cx="1482.7" cy="161.9" r="1.8" opacity="0.57"/>
<circle cx="1478.5" cy="169.8" r="1.9" opacity="0.66"/>
<circle cx="1729.6" cy="79.9" r="2.5" opacity="0.85"/>
<circle cx="1757.0" cy="112.2" r="2.8" opacity="0.95"/>
<circle cx="1442.2" cy="340.2" r="1.9" opacity="0.66"/>
<circle cx="1475.8" cy="398.6" r="2.3" opacity="0.81"/>
<circle cx="1523.1" cy="416.7" r="1.8" opacity="0.47"/>
<circle cx="1590.7" cy="395.1" r="1.8" opacity="0.38"/>
<circle cx="1407.2" cy="60.0" r="1.6" opacity="0.28"/>
<circle cx="1473.1" cy="13.7" r="1.6" opacity="0.28"/>
<circle cx="1525.5" cy="99.5" r="1.4" opacity="0.28"/>
<circle cx="1642.1" cy="322.4" r="1.4" opacity="0.28"/>
<circle cx="1589.0" cy="332.7" r="1.4" opacity="0.28"/>
<circle cx="1747.4" cy="139.9" r="1.4" opacity="0.28"/>
<circle cx="1458.0" cy="177.7" r="1.4" opacity="0.28"/>
<circle cx="1489.5" cy="295.7" r="1.4" opacity="0.28"/>
<circle cx="1510.1" cy="380.7" r="1.4" opacity="0.28"/>
<circle cx="1794.8" cy="118.3" r="1.2" opacity="0.24"/>
<circle cx="1378.0" cy="99.5" r="1.2" opacity="0.24"/>
<circle cx="1352.3" cy="155.0" r="1.2" opacity="0.19"/>
<circle cx="1330.0" cy="143.4" r="1.2" opacity="0.19"/>
<circle cx="1767.3" cy="78.2" r="1.2" opacity="0.19"/>
<circle cx="1554.7" cy="88.5" r="1.2" opacity="0.24"/>
<circle cx="1635.3" cy="94.3" r="1.2" opacity="0.24"/>
</g>
<rect x="1314.4" y="488.3" width="68" height="5.6" fill="#fff8f4" stroke="#c01828" stroke-width="1"/>
<text transform="translate(1314.5,480.6) scale(1.09,1.0)" font-family='"Liberation Serif", serif' font-weight="bold" font-size="34" fill="#fff4f6" text-anchor="start" stroke="#7a0a18" stroke-width="0.6" paint-order="stroke">5 1/nm</text>
<text transform="translate(1297.0,63.0) scale(1.045,1.0)" font-family='"Liberation Serif", serif' font-weight="bold" font-size="56" fill="#ffffff" text-anchor="start" >(c)</text>
</g>
<g id="chart">
<clipPath id="plotclip"><rect x="411.0" y="537.3" width="1055.3" height="837.7"/></clipPath>
<g clip-path="url(#plotclip)" fill="none" stroke-linecap="round">
<path d="M411.0,1290.9L413.0,1290.9L415.0,1290.9L417.0,1290.9L419.0,1290.9L421.0,1290.9L423.0,1290.9L425.0,1290.9L427.0,1290.9L429.0,1290.9L431.1,1290.9L433.1,1290.9L435.1,1290.9L437.1,1290.9L439.1,1290.9L441.1,1290.9L443.1,1290.8L445.1,1290.8L447.1,1290.8L449.1,1290.8L451.1,1290.8L453.1,1290.8L455.1,1290.8L457.1,1290.8L459.1,1290.8L461.1,1290.8L463.1,1290.8L465.1,1290.8L467.1,1290.8L469.2,1290.8L471.2,1290.7L473.2,1290.7L475.2,1290.7L477.2,1290.7L479.2,1290.7L481.2,1290.7L483.2,1290.7L485.2,1290.7L487.2,1290.7L489.2,1290.7L491.2,1290.6L493.2,1290.6L495.2,1290.6L497.2,1290.6L499.2,1290.6L501.2,1290.6L503.2,1290.6L505.2,1290.6L507.2,1290.6L509.3,1290.5L511.3,1290.5L513.3,1290.5L515.3,1290.5L517.3,1290.5L519.3,1290.4L521.3,1290.4L523.3,1290.4L525.3,1290.4L527.3,1290.4L529.3,1290.3L531.3,1290.3L533.3,1290.3L535.3,1290.3L537.3,1290.3L539.3,1290.2L541.3,1290.2L543.3,1290.2L545.3,1290.2L547.4,1290.1L549.4,1290.1L551.4,1290.1L553.4,1290.1L555.4,1290.0L557.4,1290.0L559.4,1290.0L561.4,1290.0L563.4,1290.0L565.4,1289.9L567.4,1289.9L569.4,1289.9L571.4,1289.9L573.4,1289.8L575.4,1289.8L577.4,1289.8L579.4,1289.8L581.4,1289.7L583.4,1289.7L585.5,1289.7L587.5,1289.7L589.5,1289.6L591.5,1289.6L593.5,1289.6L595.5,1289.6L597.5,1289.5L599.5,1289.5L601.5,1289.5L603.5,1289.5L605.5,1289.5L607.5,1289.4L609.5,1289.4L611.5,1289.4L613.5,1289.4L615.5,1289.4L617.5,1289.4L619.5,1289.4L621.5,1289.4L623.5,1289.5L625.6,1289.6L627.6,1289.7L629.6,1289.8L631.6,1289.9L633.6,1290.0L635.6,1290.1L637.6,1290.2L639.6,1290.2L641.6,1290.1L643.5,1289.9L645.5,1289.5L647.5,1289.0L649.4,1288.5L651.4,1288.0L653.3,1287.5L655.3,1287.1L657.3,1286.6L659.2,1286.2L661.2,1285.8L663.2,1285.7L665.2,1285.7L667.2,1286.0L669.2,1286.2L671.1,1286.6L673.1,1287.1L675.0,1287.8L676.9,1288.4L678.8,1288.9L680.8,1289.3L682.8,1289.7L684.8,1290.1L686.7,1290.4L688.7,1290.7L690.7,1290.8L692.7,1290.9L694.7,1290.9L696.7,1290.9L698.7,1290.9L700.7,1290.9L702.7,1290.9L704.7,1290.9L706.7,1290.9L708.7,1290.9L710.7,1290.9L712.7,1290.9L714.7,1290.9L716.7,1290.9L718.7,1290.9L720.7,1290.9L722.8,1290.9L724.8,1290.9L726.8,1290.9L728.8,1290.9L730.8,1290.9L732.8,1290.9L734.8,1290.9L736.8,1290.9L738.8,1290.9L740.8,1290.9L742.8,1290.9L744.9,1290.9L746.9,1290.9L748.9,1290.9L750.9,1290.9L752.9,1290.9L754.9,1290.9L756.9,1290.9L758.9,1290.9L760.9,1290.9L762.9,1290.9L764.9,1290.9L766.9,1290.9L768.9,1290.9L770.9,1290.9L772.9,1290.9L775.0,1290.9L777.0,1290.9L779.0,1290.9L781.0,1290.9L783.0,1290.9L785.0,1290.9L787.0,1290.9L789.0,1290.9L791.0,1290.9L793.0,1290.9L795.0,1290.9L797.0,1290.9L799.0,1290.9L801.0,1290.9L803.1,1290.9L805.1,1290.9L807.1,1290.9L809.1,1290.9L811.1,1290.9L813.1,1290.9L815.1,1290.9L817.1,1290.9L819.1,1290.9L821.1,1290.9L823.1,1290.9L825.1,1290.9L827.1,1290.9L829.1,1290.9L831.1,1290.9L833.1,1290.9L835.1,1290.9L837.2,1290.9L839.2,1290.9L841.2,1290.9L843.2,1290.9L845.2,1290.9L847.2,1290.9L849.2,1290.9L851.2,1290.9L853.2,1290.9L855.2,1290.9L857.2,1290.9L859.2,1290.9L861.2,1290.9L863.2,1290.8L865.2,1290.6L867.2,1290.3L869.2,1290.1L871.1,1289.8L873.1,1289.5L875.1,1289.2L877.1,1289.0L879.1,1288.9L881.1,1288.9L883.1,1288.9L885.1,1288.9L887.1,1289.0L889.1,1289.0L891.2,1289.0L893.2,1289.0L895.2,1289.0L897.2,1289.0L899.2,1289.0L901.2,1289.0L903.2,1288.9L905.2,1288.8L907.2,1288.6L909.2,1288.5L911.2,1288.4L913.2,1288.3L915.2,1288.3L917.2,1288.4L919.2,1288.5L921.2,1288.8L923.2,1289.0L925.2,1289.2L927.2,1289.3L929.2,1289.4L931.2,1289.4L933.2,1289.5L935.2,1289.6L937.2,1289.6L939.2,1289.7L941.2,1289.7L943.2,1289.8L945.2,1289.8L947.2,1289.8L949.2,1289.8L951.2,1289.8L953.2,1289.8L955.3,1289.8L957.3,1289.8L959.3,1289.8L961.3,1289.8L963.3,1289.8L965.3,1289.8L967.3,1289.8L969.3,1289.8L971.3,1289.8L973.3,1289.8L975.3,1289.8L977.3,1289.8L979.3,1289.8L981.3,1289.8L983.3,1289.8L985.3,1289.8L987.3,1289.8L989.3,1289.8L991.3,1289.8L993.4,1289.8L995.4,1289.8L997.4,1289.8L999.4,1289.8L1001.4,1289.8L1003.4,1289.8L1005.4,1289.8L1007.4,1289.8L1009.4,1289.8L1011.4,1289.8L1013.4,1289.8L1015.4,1289.8L1017.4,1289.8L1019.4,1289.8L1021.4,1289.8L1023.4,1289.8L1025.4,1289.8L1027.4,1289.8L1029.4,1289.8L1031.5,1289.8L1033.5,1289.8L1035.5,1289.8L1037.5,1289.8L1039.5,1289.8L1041.5,1289.8L1043.5,1289.8L1045.5,1289.8L1047.5,1289.8L1049.5,1289.8L1051.5,1289.7L1053.5,1289.7L1055.5,1289.7L1057.5,1289.7L1059.5,1289.7L1061.5,1289.7L1063.6,1289.7L1065.6,1289.7L1067.6,1289.6L1069.6,1289.6L1071.6,1289.6L1073.6,1289.6L1075.6,1289.6L1077.6,1289.6L1079.6,1289.5L1081.6,1289.5L1083.6,1289.5L1085.6,1289.5L1087.6,1289.5L1089.6,1289.4L1091.6,1289.4L1093.6,1289.4L1095.6,1289.4L1097.6,1289.3L1099.6,1289.3L1101.6,1289.3L1103.6,1289.2L1105.6,1289.1L1107.6,1289.0L1109.6,1288.9L1111.6,1288.7L1113.6,1288.6L1115.6,1288.4L1117.6,1288.2L1119.6,1288.1L1121.6,1287.9L1123.6,1287.7L1125.6,1287.5L1127.6,1287.4L1129.6,1287.2L1131.6,1287.0L1133.6,1286.9L1135.6,1286.7L1137.6,1286.5L1139.6,1286.3L1141.6,1286.2L1143.6,1286.0L1145.6,1285.8L1147.6,1285.6L1149.6,1285.4L1151.6,1285.1L1153.6,1284.9L1155.6,1284.7L1157.6,1284.4L1159.6,1284.2L1161.5,1283.9L1163.5,1283.7L1165.5,1283.4L1167.5,1283.1L1169.5,1282.7L1171.5,1282.4L1173.4,1282.0L1175.4,1281.7L1177.4,1281.3L1179.4,1280.9L1181.3,1280.5L1183.3,1280.1L1185.3,1279.6L1187.2,1279.2L1189.1,1278.7L1191.1,1278.2L1193.0,1277.7L1194.9,1277.2L1196.9,1276.6L1198.8,1276.0L1200.7,1275.3L1202.6,1274.7L1204.5,1273.9L1206.4,1273.2L1208.2,1272.4L1210.0,1271.6L1211.8,1270.8L1213.6,1269.8L1215.4,1268.8L1217.1,1267.8L1218.8,1266.7L1220.5,1265.5L1222.0,1264.3L1223.5,1263.1L1225.0,1261.7L1226.4,1260.3L1227.8,1258.8L1229.1,1257.2L1230.4,1255.6L1231.6,1254.0L1232.7,1252.3L1233.7,1250.7L1234.6,1248.9L1235.5,1247.1L1236.4,1245.3L1237.2,1243.5L1238.0,1241.6L1238.8,1239.7L1239.5,1237.8L1240.2,1236.0L1241.0,1234.1L1241.7,1232.2L1242.3,1230.3L1243.0,1228.4L1243.6,1226.5L1244.2,1224.6L1244.8,1222.7L1245.4,1220.8L1246.0,1218.9L1246.5,1216.9L1247.1,1215.0L1247.6,1213.1L1248.1,1211.1L1248.6,1209.2L1249.1,1207.2L1249.5,1205.3L1250.0,1203.3L1250.4,1201.4L1250.9,1199.4L1251.3,1197.5L1251.7,1195.5L1252.2,1193.5L1252.6,1191.6L1253.0,1189.6L1253.5,1187.7L1253.9,1185.7L1254.3,1183.7L1254.6,1181.8L1255.0,1179.8L1255.4,1177.8L1255.8,1175.8L1256.2,1173.9L1256.5,1171.9L1256.9,1169.9L1257.3,1168.0L1257.7,1166.0L1258.1,1164.0L1258.5,1162.1L1258.9,1160.1L1259.3,1158.1L1259.7,1156.2L1260.2,1154.2L1260.6,1152.3L1261.1,1150.3L1261.5,1148.4L1262.0,1146.4L1262.5,1144.5L1263.0,1142.5L1263.4,1140.6L1264.0,1138.6L1264.5,1136.7L1265.0,1134.8L1265.6,1132.8L1266.1,1130.9L1266.7,1129.0L1267.3,1127.0L1267.9,1125.1L1268.5,1123.2L1269.1,1121.2L1269.8,1119.3L1270.5,1117.5L1271.3,1115.6L1272.2,1113.9L1273.1,1112.1L1274.1,1110.0L1275.3,1107.9L1276.6,1106.2L1278.0,1105.1L1279.6,1104.9L1281.8,1105.1L1283.8,1105.5L1285.0,1106.1L1285.9,1107.4L1286.7,1109.2L1287.4,1111.4L1288.1,1113.7L1288.6,1116.0L1289.2,1118.2L1289.7,1120.1L1290.3,1122.0L1290.7,1124.0L1291.2,1125.9L1291.6,1127.9L1292.1,1129.8L1292.5,1131.8L1292.9,1133.8L1293.2,1135.7L1293.6,1137.7L1294.0,1139.7L1294.4,1141.7L1294.8,1143.6L1295.3,1145.6L1295.7,1147.5L1296.1,1149.5L1296.4,1151.5L1296.8,1153.4L1297.2,1155.4L1297.6,1157.4L1298.0,1159.4L1298.4,1161.3L1298.8,1163.3L1299.2,1165.3L1299.6,1167.2L1299.9,1169.2L1300.3,1171.2L1300.7,1173.1L1301.1,1175.1L1301.5,1177.1L1301.9,1179.0L1302.3,1181.0L1302.6,1183.0L1303.0,1184.9L1303.4,1186.9L1303.8,1188.9L1304.2,1190.8L1304.6,1192.8L1305.1,1194.7L1305.5,1196.7L1305.9,1198.7L1306.4,1200.6L1306.8,1202.6L1307.3,1204.5L1307.7,1206.5L1308.2,1208.4L1308.7,1210.4L1309.2,1212.3L1309.7,1214.3L1310.2,1216.2L1310.7,1218.1L1311.2,1220.1L1311.7,1222.0L1312.2,1224.0L1312.8,1225.9L1313.3,1227.8L1313.9,1229.7L1314.5,1231.7L1315.1,1233.6L1315.7,1235.5L1316.3,1237.4L1317.0,1239.3L1317.6,1241.2L1318.3,1243.1L1319.0,1245.0L1319.8,1246.8L1320.6,1248.6L1321.5,1250.4L1322.4,1252.2L1323.4,1254.0L1324.4,1255.8L1325.5,1257.5L1326.6,1259.2L1327.8,1260.7L1329.0,1262.2L1330.4,1263.7L1331.8,1265.1L1333.4,1266.5L1335.0,1267.8L1336.6,1269.0L1338.2,1270.1L1339.9,1271.1L1341.7,1272.0L1343.5,1272.8L1345.4,1273.6L1347.3,1274.3L1349.2,1275.1L1351.0,1275.8L1352.9,1276.6L1354.8,1277.3L1356.7,1278.0L1358.5,1278.7L1360.5,1279.3L1362.4,1279.9L1364.3,1280.3L1366.3,1280.6L1368.3,1280.9L1370.3,1281.1L1372.3,1281.4L1374.3,1281.7L1376.2,1282.0L1378.2,1282.4L1380.2,1282.9L1382.1,1283.4L1384.0,1283.9L1386.0,1284.4L1388.0,1284.8L1389.9,1285.1L1391.9,1285.3L1393.9,1285.5L1395.9,1285.7L1397.9,1285.9L1399.9,1286.1L1401.9,1286.3L1403.9,1286.5L1405.9,1286.7L1407.9,1286.8L1409.9,1287.0L1411.9,1287.1L1413.9,1287.2L1415.9,1287.3L1417.9,1287.5L1419.9,1287.6L1421.9,1287.7L1423.9,1287.8L1425.9,1287.9L1427.9,1288.0L1429.9,1288.1L1431.9,1288.1L1433.9,1288.2L1435.9,1288.3L1437.9,1288.4L1439.9,1288.5L1441.9,1288.6L1443.9,1288.7L1445.9,1288.7L1447.9,1288.8L1450.0,1288.9L1452.0,1288.9L1454.0,1289.0L1456.0,1289.0L1458.0,1289.1L1460.0,1289.1L1462.0,1289.2L1464.0,1289.2L1466.0,1289.2" stroke="#0b7d14" stroke-width="4.0" stroke-linejoin="round"/>
<path d="M411.0,1254.6L412.1,1253.6L413.2,1251.1L414.3,1248.3L415.4,1252.1L416.5,1251.8L417.6,1255.3L418.7,1260.6L419.8,1251.7L420.9,1246.1L422.0,1248.3L423.1,1243.0L424.2,1237.1L425.3,1231.2L426.4,1232.0L427.5,1233.9L428.6,1226.8L429.7,1229.7L430.8,1225.2L431.9,1226.7L433.0,1221.8L434.1,1225.9L435.2,1221.5L436.3,1228.9L437.4,1232.1L438.5,1233.1L439.7,1226.0L440.8,1236.8L441.9,1240.5L443.0,1244.1L444.1,1241.5L445.2,1246.7L446.3,1246.0L447.4,1248.4L448.5,1257.1L449.6,1250.4L450.7,1253.5L451.8,1254.7L452.9,1248.3L454.0,1249.4L455.1,1249.9L456.2,1249.7L457.3,1246.0L458.4,1251.4L459.5,1255.3L460.6,1243.7L461.7,1251.6L462.8,1247.6L463.9,1243.2L465.0,1252.8L466.1,1245.8L467.2,1236.8L468.3,1240.9L469.4,1242.2L470.5,1239.9L471.6,1244.3L472.7,1240.7L473.8,1243.5L474.9,1245.4L476.0,1236.0L477.1,1239.6L478.2,1236.6L479.3,1238.0L480.4,1230.0L481.5,1231.0L482.6,1230.9L483.7,1232.0L484.8,1231.2L485.9,1220.7L487.0,1221.9L488.1,1227.7L489.2,1215.8L490.3,1220.4L491.4,1220.6L492.5,1224.5L493.6,1221.6L494.7,1215.4L495.9,1213.1L497.0,1210.7L498.1,1214.9L499.2,1205.6L500.3,1205.0L501.4,1206.4L502.5,1204.6L503.6,1202.8L504.7,1197.6L505.8,1200.1L506.9,1196.3L508.0,1203.8L509.1,1200.5L510.2,1196.9L511.3,1197.9L512.4,1190.6L513.5,1194.5L514.6,1188.7L515.7,1187.9L516.8,1178.4L517.9,1181.6L519.0,1172.1L520.1,1170.9L521.2,1175.8L522.3,1171.9L523.4,1172.8L524.5,1178.1L525.6,1165.2L526.7,1163.5L527.8,1165.3L528.9,1163.5L530.0,1158.2L531.1,1154.1L532.2,1154.7L533.3,1153.2L534.4,1148.9L535.5,1155.5L536.6,1158.8L537.7,1156.2L538.8,1161.6L539.9,1158.3L541.0,1165.1L542.1,1163.1L543.2,1165.9L544.3,1167.1L545.4,1174.0L546.5,1171.8L547.6,1176.9L548.7,1186.8L549.8,1180.0L550.9,1194.9L552.1,1190.9L553.2,1204.9L554.3,1202.4L555.4,1211.3L556.5,1210.2L557.6,1205.6L558.7,1220.8L559.8,1223.3L560.9,1221.6L562.0,1222.0L563.1,1223.7L564.2,1223.0L565.3,1231.0L566.4,1226.2L567.5,1229.2L568.6,1229.6L569.7,1234.4L570.8,1234.6L571.9,1245.3L573.0,1243.5L574.1,1250.2L575.2,1249.1L576.3,1247.6L577.4,1248.7L578.5,1246.4L579.6,1247.6L580.7,1245.4L581.8,1245.4L582.9,1240.3L584.0,1243.8L585.1,1252.8L586.2,1241.7L587.3,1242.1L588.4,1246.3L589.5,1249.7L590.6,1238.9L591.7,1243.3L592.8,1242.4L593.9,1238.5L595.0,1248.8L596.1,1245.8L597.2,1245.0L598.3,1242.6L599.4,1247.2L600.5,1242.6L601.6,1244.6L602.7,1241.0L603.8,1241.1L604.9,1251.5L606.0,1244.8L607.1,1249.1L608.3,1248.6L609.4,1248.8L610.5,1250.5L611.6,1255.2L612.7,1253.8L613.8,1253.7L614.9,1254.6L616.0,1258.8L617.1,1257.0L618.2,1258.2L619.3,1252.8L620.4,1249.6L621.5,1258.2L622.6,1258.0L623.7,1256.2L624.8,1260.0L625.9,1261.2L627.0,1261.7L628.1,1261.7L629.2,1257.4L630.3,1263.2L631.4,1252.6L632.5,1260.3L633.6,1259.0L634.7,1261.9L635.8,1264.4L636.9,1263.7L638.0,1251.8L639.1,1248.9L640.2,1258.0L641.3,1250.5L642.4,1255.5L643.5,1260.4L644.6,1251.8L645.7,1250.8L646.8,1259.7L647.9,1258.0L649.0,1257.4L650.1,1258.5L651.2,1254.7L652.3,1252.0L653.4,1256.8L654.5,1253.0L655.6,1250.0L656.7,1259.5L657.8,1257.2L658.9,1259.5L660.0,1254.2L661.1,1255.1L662.2,1254.5L663.3,1254.3L664.5,1260.9L665.6,1257.2L666.7,1263.1L667.8,1264.7L668.9,1269.7L670.0,1256.3L671.1,1264.7L672.2,1260.8L673.3,1262.2L674.4,1257.1L675.5,1259.7L676.6,1264.7L677.7,1260.2L678.8,1261.8L679.9,1261.6L681.0,1267.4L682.1,1264.8L683.2,1256.5L684.3,1261.7L685.4,1255.7L686.5,1253.2L687.6,1258.6L688.7,1266.0L689.8,1263.5L690.9,1258.6L692.0,1261.4L693.1,1269.2L694.2,1264.4L695.3,1264.5L696.4,1263.6L697.5,1265.4L698.6,1269.6L699.7,1269.0L700.8,1267.1L701.9,1260.2L703.0,1264.6L704.1,1258.9L705.2,1265.6L706.3,1256.4L707.4,1261.0L708.5,1259.7L709.6,1253.3L710.7,1265.5L711.8,1262.4L712.9,1255.4L714.0,1259.9L715.1,1256.2L716.2,1245.3L717.3,1257.7L718.4,1257.6L719.5,1258.7L720.7,1253.7L721.8,1255.0L722.9,1255.6L724.0,1261.5L725.1,1258.6L726.2,1258.6L727.3,1264.8L728.4,1257.4L729.5,1258.0L730.6,1250.9L731.7,1262.8L732.8,1258.9L733.9,1260.1L735.0,1259.7L736.1,1258.4L737.2,1261.9L738.3,1260.3L739.4,1259.9L740.5,1261.1L741.6,1266.1L742.7,1260.8L743.8,1258.5L744.9,1255.7L746.0,1253.3L747.1,1263.8L748.2,1258.3L749.3,1255.9L750.4,1255.3L751.5,1251.0L752.6,1257.1L753.7,1261.8L754.8,1256.9L755.9,1258.6L757.0,1256.8L758.1,1257.9L759.2,1250.9L760.3,1255.4L761.4,1254.8L762.5,1260.9L763.6,1254.5L764.7,1260.3L765.8,1264.1L766.9,1257.1L768.0,1258.0L769.1,1262.3L770.2,1260.2L771.3,1257.4L772.4,1263.6L773.5,1268.7L774.6,1261.4L775.7,1261.4L776.9,1256.0L778.0,1260.7L779.1,1254.3L780.2,1255.8L781.3,1265.4L782.4,1256.9L783.5,1264.2L784.6,1265.3L785.7,1260.0L786.8,1261.4L787.9,1268.6L789.0,1260.5L790.1,1260.1L791.2,1257.5L792.3,1262.2L793.4,1267.4L794.5,1264.8L795.6,1257.7L796.7,1256.6L797.8,1258.6L798.9,1261.4L800.0,1257.7L801.1,1259.3L802.2,1257.5L803.3,1254.7L804.4,1255.2L805.5,1256.9L806.6,1255.5L807.7,1256.2L808.8,1261.9L809.9,1254.7L811.0,1253.5L812.1,1249.7L813.2,1259.1L814.3,1250.9L815.4,1252.5L816.5,1261.4L817.6,1260.1L818.7,1257.4L819.8,1252.2L820.9,1257.5L822.0,1256.6L823.1,1261.3L824.2,1266.6L825.3,1256.5L826.4,1250.4L827.5,1247.2L828.6,1250.6L829.7,1248.2L830.8,1244.1L831.9,1249.2L833.0,1245.3L834.2,1253.4L835.3,1252.5L836.4,1251.6L837.5,1243.3L838.6,1247.9L839.7,1244.4L840.8,1242.5L841.9,1240.7L843.0,1235.0L844.1,1234.9L845.2,1243.9L846.3,1240.2L847.4,1241.8L848.5,1244.8L849.6,1234.9L850.7,1239.4L851.8,1243.7L852.9,1243.5L854.0,1239.7L855.1,1243.4L856.2,1235.2L857.3,1227.2L858.4,1226.0L859.5,1228.4L860.6,1225.4L861.7,1213.8L862.8,1223.2L863.9,1217.5L865.0,1216.2L866.1,1206.3L867.2,1202.6L868.3,1195.9L869.4,1206.2L870.5,1192.9L871.6,1196.1L872.7,1181.6L873.8,1175.7L874.9,1166.6L876.0,1181.9L877.1,1197.6L878.2,1199.7L879.3,1211.4L880.4,1212.5L881.5,1209.4L882.6,1215.9L883.7,1220.8L884.8,1228.1L885.9,1232.4L887.0,1230.6L888.1,1223.1L889.2,1210.9L890.4,1209.8L891.5,1237.7L892.6,1249.3L893.7,1239.8L894.8,1246.3L895.9,1244.7L897.0,1245.0L898.1,1255.1L899.2,1250.4L900.3,1257.9L901.4,1248.6L902.5,1251.3L903.6,1248.6L904.7,1249.4L905.8,1256.3L906.9,1254.5L908.0,1260.0L909.1,1258.5L910.2,1255.1L911.3,1260.7L912.4,1261.0L913.5,1263.4L914.6,1256.5L915.7,1261.0L916.8,1255.3L917.9,1264.9L919.0,1258.3L920.1,1254.4L921.2,1258.0L922.3,1260.4L923.4,1248.2L924.5,1248.0L925.6,1250.4L926.7,1248.0L927.8,1252.2L928.9,1248.2L930.0,1247.6L931.1,1253.2L932.2,1250.6L933.3,1256.1L934.4,1251.6L935.5,1249.8L936.6,1247.3L937.7,1261.7L938.8,1253.3L939.9,1258.7L941.0,1260.2L942.1,1262.0L943.2,1262.6L944.3,1272.3L945.4,1260.7L946.6,1259.2L947.7,1263.5L948.8,1262.1L949.9,1271.1L951.0,1274.0L952.1,1267.4L953.2,1265.5L954.3,1271.1L955.4,1278.8L956.5,1264.8L957.6,1277.9L958.7,1271.7L959.8,1281.9L960.9,1273.8L962.0,1278.0L963.1,1272.7L964.2,1271.1L965.3,1280.0L966.4,1276.0L967.5,1270.9L968.6,1267.4L969.7,1260.3L970.8,1262.7L971.9,1261.3L973.0,1259.3L974.1,1260.3L975.2,1256.5L976.3,1260.5L977.4,1260.7L978.5,1265.2L979.6,1267.2L980.7,1259.0L981.8,1255.6L982.9,1260.8L984.0,1260.5L985.1,1262.6L986.2,1267.1L987.3,1263.6L988.4,1271.8L989.5,1268.3L990.6,1267.7L991.7,1263.0L992.8,1258.6L993.9,1255.7L995.0,1256.8L996.1,1256.4L997.2,1258.7L998.3,1259.2L999.4,1254.1L1000.5,1259.3L1001.6,1256.6L1002.8,1260.0L1003.9,1262.8L1005.0,1254.8L1006.1,1263.7L1007.2,1263.8L1008.3,1262.7L1009.4,1263.4L1010.5,1260.9L1011.6,1258.8L1012.7,1261.5L1013.8,1260.7L1014.9,1264.1L1016.0,1258.6L1017.1,1261.6L1018.2,1259.8L1019.3,1258.6L1020.4,1258.0L1021.5,1264.3L1022.6,1254.9L1023.7,1264.0L1024.8,1266.7L1025.9,1269.2L1027.0,1271.7L1028.1,1267.1L1029.2,1265.4L1030.3,1269.0L1031.4,1265.8L1032.5,1264.0L1033.6,1257.9L1034.7,1265.6L1035.8,1269.6L1036.9,1269.6L1038.0,1265.9L1039.1,1257.5L1040.2,1267.1L1041.3,1262.2L1042.4,1252.3L1043.5,1262.0L1044.6,1253.2L1045.7,1252.0L1046.8,1253.4L1047.9,1259.4L1049.0,1252.8L1050.1,1256.4L1051.2,1264.1L1052.3,1263.0L1053.4,1255.0L1054.5,1254.2L1055.6,1248.7L1056.7,1252.2L1057.8,1258.7L1059.0,1257.9L1060.1,1256.3L1061.2,1259.3L1062.3,1251.7L1063.4,1255.2L1064.5,1258.4L1065.6,1258.4L1066.7,1260.6L1067.8,1257.3L1068.9,1254.2L1070.0,1257.2L1071.1,1251.0L1072.2,1245.8L1073.3,1254.0L1074.4,1250.8L1075.5,1250.7L1076.6,1242.1L1077.7,1246.8L1078.8,1245.6L1079.9,1245.7L1081.0,1239.5L1082.1,1247.6L1083.2,1249.4L1084.3,1245.4L1085.4,1242.7L1086.5,1242.2L1087.6,1244.6L1088.7,1229.4L1089.8,1236.4L1090.9,1236.3L1092.0,1233.3L1093.1,1238.0L1094.2,1232.9L1095.3,1228.8L1096.4,1226.6L1097.5,1220.5L1098.6,1209.9L1099.7,1204.8L1100.8,1202.1L1101.9,1197.1L1103.0,1181.5L1104.1,1172.2L1105.2,1166.1L1106.3,1167.9L1107.4,1158.6L1108.5,1159.0L1109.6,1142.7L1110.7,1137.1L1111.8,1130.0L1112.9,1125.7L1114.0,1134.3L1115.2,1131.2L1116.3,1137.7L1117.4,1146.4L1118.5,1144.1L1119.6,1144.5L1120.7,1157.0L1121.8,1157.9L1122.9,1163.7L1124.0,1163.2L1125.1,1173.7L1126.2,1172.0L1127.3,1178.8L1128.4,1174.7L1129.5,1179.7L1130.6,1189.5L1131.7,1190.1L1132.8,1198.5L1133.9,1199.1L1135.0,1195.2L1136.1,1201.6L1137.2,1203.0L1138.3,1209.8L1139.4,1206.7L1140.5,1208.6L1141.6,1217.4L1142.7,1222.7L1143.8,1223.9L1144.9,1218.6L1146.0,1221.9L1147.1,1230.1L1148.2,1220.3L1149.3,1214.2L1150.4,1213.0L1151.5,1212.1L1152.6,1205.2L1153.7,1201.1L1154.8,1203.3L1155.9,1211.6L1157.0,1205.5L1158.1,1207.3L1159.2,1205.1L1160.3,1206.1L1161.4,1200.6L1162.5,1197.2L1163.6,1191.8L1164.7,1190.6L1165.8,1184.7L1166.9,1192.2L1168.0,1182.7L1169.1,1175.7L1170.2,1172.5L1171.4,1167.9L1172.5,1167.4L1173.6,1154.6L1174.7,1154.3L1175.8,1152.9L1176.9,1160.0L1178.0,1148.8L1179.1,1139.1L1180.2,1135.6L1181.3,1136.8L1182.4,1131.3L1183.5,1131.7L1184.6,1141.5L1185.7,1140.0L1186.8,1139.3L1187.9,1135.5L1189.0,1144.7L1190.1,1144.4L1191.2,1142.2L1192.3,1144.2L1193.4,1134.5L1194.5,1146.4L1195.6,1145.0L1196.7,1149.1L1197.8,1153.5L1198.9,1154.9L1200.0,1152.7L1201.1,1163.3L1202.2,1157.6L1203.3,1154.9L1204.4,1149.9L1205.5,1145.8L1206.6,1133.9L1207.7,1143.0L1208.8,1137.4L1209.9,1138.2L1211.0,1138.7L1212.1,1127.9L1213.2,1119.4L1214.3,1121.4L1215.4,1119.5L1216.5,1120.7L1217.6,1119.5L1218.7,1107.7L1219.8,1112.7L1220.9,1104.9L1222.0,1107.6L1223.1,1104.8L1224.2,1098.6L1225.3,1090.2L1226.4,1082.3L1227.6,1074.5L1228.7,1062.4L1229.8,1061.6L1230.9,1060.0L1232.0,1048.9L1233.1,1037.0L1234.2,1024.3L1235.3,1006.4L1236.4,997.7L1237.5,973.0L1238.6,966.0L1239.7,957.7L1240.8,949.6L1241.9,938.6L1243.0,928.2L1244.1,908.6L1245.2,884.7L1246.3,869.7L1247.4,847.9L1248.5,832.1L1249.6,808.5L1250.7,780.6L1251.8,753.3L1252.9,740.5L1254.0,731.6L1255.1,706.2L1256.2,679.8L1257.3,655.3L1258.4,616.7L1259.5,581.3L1260.6,536.7" stroke="#ff0000" stroke-width="4.5" stroke-linejoin="round"/>
<path d="M1286.2,538.0L1287.3,577.9L1288.4,610.2L1289.6,628.3L1290.7,655.1L1291.8,669.5L1292.9,693.4L1294.0,709.5L1295.1,722.9L1296.2,767.2L1297.3,792.1L1298.4,814.0L1299.6,836.7L1300.7,849.4L1301.8,868.4L1302.9,892.9L1304.0,907.7L1305.1,928.9L1306.2,941.3L1307.3,952.8L1308.5,969.4L1309.6,987.7L1310.7,999.2L1311.8,1005.5L1312.9,1015.4L1314.0,1024.5L1315.1,1032.2L1316.2,1050.1L1317.4,1052.9L1318.5,1059.0L1319.6,1069.7L1320.7,1084.7L1321.8,1092.5L1322.9,1095.5L1324.0,1099.3L1325.1,1105.1L1326.3,1105.8L1327.4,1114.5L1328.5,1127.6L1329.6,1127.9L1330.7,1136.6L1331.8,1143.3L1332.9,1146.0L1334.0,1149.4L1335.2,1159.8L1336.3,1156.9L1337.4,1155.0L1338.5,1160.9L1339.6,1164.4L1340.7,1162.5L1341.8,1172.2L1342.9,1175.3L1344.0,1169.2L1345.2,1179.6L1346.3,1181.0L1347.4,1183.0L1348.5,1179.8L1349.6,1186.5L1350.7,1189.4L1351.8,1191.1L1352.9,1188.5L1354.1,1197.7L1355.2,1191.0L1356.3,1196.2L1357.4,1204.2L1358.5,1196.2L1359.6,1197.9L1360.7,1206.0L1361.8,1202.2L1363.0,1204.5L1364.1,1205.7L1365.2,1209.7L1366.3,1196.9L1367.4,1202.7L1368.5,1204.4L1369.6,1203.8L1370.7,1205.6L1371.9,1208.6L1373.0,1214.0L1374.1,1210.5L1375.2,1217.7L1376.3,1216.4L1377.4,1211.4L1378.5,1214.3L1379.6,1217.3L1380.7,1212.2L1381.9,1210.1L1383.0,1215.4L1384.1,1212.9L1385.2,1220.8L1386.3,1223.2L1387.4,1216.1L1388.5,1221.5L1389.6,1226.8L1390.8,1220.8L1391.9,1226.4L1393.0,1220.1L1394.1,1220.8L1395.2,1223.1L1396.3,1233.1L1397.4,1223.6L1398.5,1224.8L1399.7,1225.1L1400.8,1227.5L1401.9,1231.5L1403.0,1231.0L1404.1,1243.0L1405.2,1238.1L1406.3,1246.3L1407.4,1246.5L1408.6,1248.0L1409.7,1240.5L1410.8,1247.5L1411.9,1246.5L1413.0,1247.3L1414.1,1241.7L1415.2,1252.7L1416.3,1248.4L1417.4,1247.7L1418.6,1247.7L1419.7,1248.1L1420.8,1252.4L1421.9,1245.0L1423.0,1246.9L1424.1,1253.0L1425.2,1252.6L1426.3,1253.3L1427.5,1252.8L1428.6,1253.5L1429.7,1257.5L1430.8,1262.4L1431.9,1254.5L1433.0,1263.0L1434.1,1260.6L1435.2,1255.1L1436.4,1260.8L1437.5,1253.5L1438.6,1252.9L1439.7,1257.2L1440.8,1261.1L1441.9,1260.4L1443.0,1260.3L1444.1,1262.4L1445.3,1255.5L1446.4,1267.4L1447.5,1260.9L1448.6,1265.2L1449.7,1266.6L1450.8,1264.1L1451.9,1262.0L1453.0,1262.2L1454.1,1265.1L1455.3,1267.1L1456.4,1265.6L1457.5,1261.4L1458.6,1263.0L1459.7,1263.7L1460.8,1270.4L1461.9,1260.3L1463.0,1275.3L1464.2,1268.2L1465.3,1266.8L1466.4,1272.0" stroke="#ff0000" stroke-width="4.5" stroke-linejoin="round"/>
<path d="M410.5,1133.0L412.5,1132.9L414.5,1132.8L416.6,1132.7L418.6,1132.7L420.6,1132.6L422.6,1132.5L424.6,1132.4L426.6,1132.3L428.6,1132.2L430.6,1132.2L432.6,1132.1L434.6,1132.0L436.6,1131.9L438.6,1131.8L440.6,1131.7L442.6,1131.6L444.6,1131.5L446.6,1131.4L448.6,1131.4L450.6,1131.3L452.6,1131.2L454.6,1131.1L456.6,1131.0L458.6,1130.9L460.6,1130.8L462.6,1130.7L464.6,1130.6L466.6,1130.5L468.6,1130.4L470.6,1130.3L472.6,1130.2L474.6,1130.1L476.6,1130.0L478.6,1129.9L480.6,1129.8L482.6,1129.7L484.6,1129.6L486.7,1129.5L488.7,1129.4L490.7,1129.3L492.7,1129.2L494.7,1129.1L496.7,1129.0L498.7,1128.9L500.7,1128.8L502.7,1128.7L504.7,1128.6L506.7,1128.4L508.7,1128.3L510.7,1128.1L512.6,1127.8L514.6,1127.4L516.5,1127.0L518.5,1126.4L520.4,1125.9L522.3,1125.3L524.3,1124.7L526.2,1124.1L528.1,1123.6L530.1,1123.2L532.1,1122.7L534.0,1122.3L536.0,1121.9L537.9,1121.5L539.9,1121.1L541.9,1120.7L543.8,1120.3L545.8,1120.0L547.8,1119.7L549.8,1119.5L551.8,1119.3L553.8,1119.1L555.8,1118.9L557.8,1118.6L559.7,1118.2L561.7,1117.5L563.6,1116.7L565.5,1116.1L567.4,1116.0L569.4,1116.1L571.4,1116.4L573.4,1116.8L575.4,1117.1L577.3,1117.5L579.3,1117.9L581.2,1118.4L583.2,1118.8L585.1,1119.3L587.1,1119.8L589.0,1120.3L591.0,1120.7L592.9,1121.1L594.9,1121.6L596.9,1122.0L598.8,1122.4L600.8,1122.8L602.8,1123.2L604.7,1123.6L606.7,1123.9L608.7,1124.2L610.7,1124.5L612.7,1124.8L614.6,1125.1L616.6,1125.3L618.6,1125.6L620.6,1125.8L622.6,1126.0L624.6,1126.1L626.6,1126.2L628.6,1126.2L630.6,1126.2L632.6,1126.2L634.6,1126.2L636.7,1126.2L638.7,1126.2L640.7,1126.2L642.7,1126.2L644.7,1126.2L646.7,1126.2L648.7,1126.2L650.7,1126.1L652.7,1125.9L654.6,1125.6L656.6,1125.2L658.6,1124.7L660.5,1124.3L662.5,1123.7L664.4,1123.6L666.3,1124.3L668.1,1125.2L669.9,1126.3L671.8,1127.1L673.7,1127.6L675.6,1128.0L677.6,1128.4L679.6,1128.8L681.6,1129.1L683.6,1129.3L685.6,1129.4L687.6,1129.5L689.6,1129.6L691.6,1129.6L693.6,1129.6L695.6,1129.7L697.6,1129.8L699.6,1129.9L701.6,1130.0L703.6,1130.1L705.6,1130.1L707.6,1130.2L709.6,1130.2L711.6,1130.3L713.6,1130.3L715.7,1130.3L717.7,1130.3L719.7,1130.4L721.7,1130.4L723.7,1130.4L725.7,1130.4L727.7,1130.4L729.7,1130.5L731.7,1130.5L733.7,1130.5L735.7,1130.5L737.7,1130.5L739.7,1130.5L741.7,1130.5L743.7,1130.4L745.7,1130.3L747.7,1130.2L749.7,1130.1L751.7,1130.0L753.7,1129.9L755.7,1129.8L757.7,1129.7L759.7,1129.6L761.7,1129.4L763.7,1129.4L765.8,1129.3L767.8,1129.2L769.8,1129.2L771.8,1129.2L773.8,1129.2L775.8,1129.2L777.8,1129.2L779.8,1129.3L781.8,1129.3L783.8,1129.3L785.8,1129.4L787.8,1129.4L789.8,1129.5L791.8,1129.5L793.8,1129.6L795.8,1129.6L797.8,1129.7L799.8,1129.7L801.8,1129.8L803.8,1129.8L805.8,1129.8L807.8,1129.9L809.8,1129.9L811.9,1129.9L813.9,1130.0L815.9,1130.0L817.9,1130.0L819.9,1130.0L821.9,1130.0L823.9,1130.0L825.9,1129.9L827.9,1129.9L829.9,1129.8L831.9,1129.8L833.9,1129.7L835.9,1129.6L837.9,1129.5L839.9,1129.4L841.9,1129.3L843.9,1129.2L845.9,1129.1L847.9,1129.1L849.9,1129.0L851.9,1128.9L853.9,1128.8L855.9,1128.7L857.9,1128.6L859.9,1128.4L861.9,1128.3L863.9,1128.2L865.9,1128.0L867.9,1127.9L869.9,1127.8L871.9,1127.7L874.0,1127.6L876.0,1127.5L878.0,1127.4L880.0,1127.3L882.0,1127.3L884.0,1127.2L886.0,1127.3L888.0,1127.3L890.0,1127.4L892.0,1127.5L894.0,1127.6L896.0,1127.8L898.0,1127.8L900.0,1127.9L902.0,1127.9L904.0,1127.7L905.9,1127.3L907.9,1126.8L909.9,1126.3L911.8,1125.7L913.7,1125.2L915.6,1124.4L917.4,1123.4L919.2,1122.6L921.2,1122.3L923.2,1122.2L925.3,1122.2L927.3,1122.1L929.4,1122.0L931.2,1121.9L933.0,1121.5L934.6,1120.3L936.2,1118.8L937.7,1117.4L939.3,1115.9L940.9,1114.2L942.4,1112.8L943.8,1112.2L945.1,1112.8L946.3,1114.5L947.4,1116.5L948.7,1118.5L950.0,1120.0L951.6,1121.4L953.2,1122.8L954.9,1124.0L956.6,1124.9L958.4,1125.3L960.3,1125.6L962.2,1125.9L964.2,1126.2L966.3,1126.4L968.3,1126.6L970.4,1126.7L972.5,1126.7L974.5,1126.8L976.5,1126.7L978.5,1126.7L980.5,1126.6L982.5,1126.6L984.5,1126.5L986.5,1126.4L988.5,1126.3L990.5,1126.3L992.5,1126.2L994.5,1126.2L996.5,1126.1L998.5,1126.1L1000.5,1126.0L1002.5,1126.0L1004.5,1126.0L1006.5,1125.9L1008.5,1125.9L1010.5,1125.8L1012.6,1125.8L1014.6,1125.7L1016.6,1125.7L1018.6,1125.6L1020.6,1125.6L1022.6,1125.5L1024.6,1125.4L1026.6,1125.3L1028.6,1125.2L1030.6,1125.0L1032.5,1124.7L1034.5,1124.5L1036.5,1124.3L1038.5,1124.0L1040.5,1123.8L1042.5,1123.7L1044.5,1123.5L1046.5,1123.4L1048.5,1123.2L1050.5,1123.1L1052.5,1122.9L1054.5,1122.8L1056.5,1122.7L1058.5,1122.6L1060.5,1122.4L1062.5,1122.3L1064.5,1122.1L1066.5,1122.0L1068.5,1121.8L1070.5,1121.6L1072.5,1121.5L1074.5,1121.2L1076.5,1121.0L1078.5,1120.7L1080.4,1120.4L1082.4,1120.1L1084.4,1119.7L1086.4,1119.4L1088.4,1119.0L1090.3,1118.6L1092.3,1118.3L1094.3,1117.9L1096.3,1117.6L1098.2,1117.2L1100.2,1116.9L1102.2,1116.6L1104.2,1116.3L1106.2,1116.0L1108.2,1115.7L1110.1,1115.4L1112.1,1115.1L1114.1,1114.8L1116.1,1114.4L1118.0,1114.1L1120.0,1113.7L1122.0,1113.3L1123.9,1112.8L1125.8,1112.3L1127.8,1111.8L1129.7,1111.2L1131.6,1110.6L1133.5,1110.0L1135.4,1109.4L1137.3,1108.7L1139.2,1108.1L1141.1,1107.4L1143.0,1106.7L1144.9,1106.0L1146.7,1105.2L1148.6,1104.4L1150.4,1103.7L1152.3,1102.9L1154.1,1102.1L1156.0,1101.3L1157.8,1100.6L1159.7,1099.8L1161.6,1099.0L1163.5,1098.3L1165.3,1097.4L1167.1,1096.6L1168.9,1095.7L1170.6,1094.7L1172.2,1093.7L1173.8,1092.5L1175.4,1091.3L1176.9,1090.0L1178.5,1088.7L1179.9,1087.3L1181.4,1085.9L1182.8,1084.4L1184.2,1082.9L1185.6,1081.5L1187.0,1080.0L1188.4,1078.6L1189.7,1077.1L1191.1,1075.6L1192.4,1074.0L1193.7,1072.5L1194.9,1070.9L1196.2,1069.3L1197.4,1067.7L1198.5,1066.1L1199.6,1064.4L1200.6,1062.7L1201.6,1061.0L1202.6,1059.3L1203.5,1057.5L1204.4,1055.7L1205.3,1053.8L1206.2,1052.0L1207.0,1050.2L1207.8,1048.3L1208.6,1046.5L1209.3,1044.6L1210.0,1042.8L1210.8,1040.9L1211.4,1039.0L1212.1,1037.1L1212.8,1035.2L1213.4,1033.3L1214.0,1031.4L1214.7,1029.5L1215.3,1027.6L1215.9,1025.7L1216.5,1023.8L1217.0,1021.8L1217.6,1019.9L1218.2,1018.0L1218.7,1016.1L1219.2,1014.1L1219.8,1012.2L1220.3,1010.3L1220.8,1008.3L1221.2,1006.4L1221.7,1004.4L1222.2,1002.5L1222.6,1000.5L1223.0,998.6L1223.4,996.6L1223.8,994.6L1224.2,992.7L1224.6,990.7L1225.0,988.7L1225.4,986.8L1225.8,984.8L1226.3,982.8L1226.7,980.9L1227.1,978.9L1227.5,977.0L1227.9,975.0L1228.4,973.0L1228.8,971.1L1229.2,969.1L1229.6,967.1L1230.0,965.2L1230.4,963.2L1230.8,961.2L1231.1,959.3L1231.5,957.3L1231.8,955.3L1232.1,953.3L1232.4,951.4L1232.7,949.4L1232.9,947.4L1233.2,945.4L1233.5,943.4L1233.7,941.4L1234.0,939.4L1234.2,937.5L1234.5,935.5L1234.7,933.5L1234.9,931.5L1235.1,929.5L1235.4,927.5L1235.6,925.5L1235.8,923.5L1236.0,921.5L1236.2,919.5L1236.4,917.5L1236.6,915.5L1236.8,913.5L1237.0,911.5L1237.2,909.5L1237.4,907.5L1237.6,905.5L1237.8,903.5L1238.0,901.5L1238.2,899.6L1238.4,897.6L1238.5,895.6L1238.7,893.6L1238.9,891.6L1239.1,889.6L1239.2,887.6L1239.4,885.6L1239.6,883.6L1239.7,881.6L1239.9,879.6L1240.1,877.6L1240.2,875.6L1240.4,873.6L1240.5,871.6L1240.7,869.6L1240.8,867.6L1241.0,865.6L1241.2,863.6L1241.3,861.6L1241.5,859.6L1241.6,857.6L1241.7,855.6L1241.9,853.6L1242.0,851.6L1242.2,849.6L1242.3,847.6L1242.5,845.6L1242.6,843.6L1242.7,841.6L1242.9,839.6L1243.0,837.6L1243.1,835.6L1243.2,833.6L1243.4,831.6L1243.5,829.6L1243.6,827.6L1243.8,825.6L1243.9,823.6L1244.0,821.6L1244.1,819.6L1244.3,817.6L1244.4,815.6L1244.5,813.6L1244.7,811.6L1244.8,809.6L1244.9,807.6L1245.1,805.6L1245.2,803.6L1245.3,801.6L1245.5,799.6L1245.6,797.6L1245.8,795.6L1245.9,793.6L1246.0,791.6L1246.2,789.6L1246.3,787.6L1246.4,785.6L1246.6,783.6L1246.7,781.6L1246.8,779.6L1247.0,777.6L1247.1,775.6L1247.3,773.6L1247.4,771.6L1247.5,769.6L1247.6,767.6L1247.8,765.6L1247.9,763.6L1248.0,761.6L1248.1,759.6L1248.3,757.6L1248.4,755.6L1248.5,753.6L1248.6,751.6L1248.7,749.6L1248.8,747.6L1248.9,745.6L1249.0,743.6L1249.2,741.6L1249.3,739.6L1249.4,737.6L1249.5,735.6L1249.6,733.6L1249.7,731.6L1249.8,729.5L1249.9,727.5L1250.0,725.5L1250.1,723.5L1250.2,721.5L1250.3,719.5L1250.4,717.5L1250.5,715.5L1250.6,713.5L1250.7,711.5L1250.8,709.5L1250.9,707.5L1251.0,705.5L1251.1,703.5L1251.2,701.5L1251.3,699.5L1251.4,697.5L1251.6,695.5L1251.7,693.5L1251.8,691.5L1251.9,689.5L1252.0,687.5L1252.0,685.5L1252.1,683.5L1252.2,681.5L1252.3,679.5L1252.4,677.5L1252.5,675.5L1252.6,673.5L1252.7,671.5L1252.8,669.5L1252.9,667.5L1253.0,665.5L1253.1,663.5L1253.2,661.5L1253.3,659.5L1253.4,657.5L1253.5,655.5L1253.6,653.5L1253.7,651.5L1253.8,649.5L1253.9,647.5L1254.0,645.5L1254.1,643.5L1254.1,641.4L1254.2,639.4L1254.3,637.4L1254.4,635.4L1254.5,633.4L1254.6,631.4L1254.7,629.4L1254.8,627.4L1254.9,625.4L1255.0,623.4L1255.0,621.4L1255.1,619.4L1255.2,617.4L1255.3,615.4L1255.4,613.4L1255.5,611.4L1255.6,609.4L1255.7,607.4L1255.8,605.4L1255.8,603.4L1255.9,601.4L1256.0,599.4L1256.1,597.4L1256.2,595.4L1256.3,593.4L1256.4,591.4L1256.5,589.4L1256.5,587.4L1256.6,585.4L1256.7,583.4L1256.8,581.4L1256.9,579.4L1257.0,577.4L1257.1,575.4L1257.1,573.4L1257.2,571.3L1257.3,569.3L1257.4,567.3L1257.5,565.3L1257.6,563.3L1257.7,561.3L1257.7,559.3L1257.8,557.3L1257.9,555.3L1258.0,553.3L1258.1,551.3L1258.2,549.3L1258.2,547.3L1258.3,545.3L1258.4,543.3L1258.5,541.3L1258.6,539.3L1258.6,537.3" stroke="#00f510" stroke-width="3.9" stroke-linejoin="round"/>
<path d="M1294.8,537.3L1294.9,539.3L1295.0,541.3L1295.0,543.3L1295.1,545.3L1295.2,547.3L1295.3,549.3L1295.3,551.3L1295.4,553.3L1295.5,555.3L1295.6,557.4L1295.7,559.4L1295.7,561.4L1295.8,563.4L1295.9,565.4L1296.0,567.4L1296.0,569.4L1296.1,571.4L1296.2,573.4L1296.3,575.4L1296.4,577.4L1296.4,579.4L1296.5,581.4L1296.6,583.4L1296.7,585.4L1296.8,587.4L1296.9,589.4L1296.9,591.4L1297.0,593.5L1297.1,595.5L1297.2,597.5L1297.3,599.5L1297.4,601.5L1297.4,603.5L1297.5,605.5L1297.6,607.5L1297.7,609.5L1297.8,611.5L1297.8,613.5L1297.9,615.5L1298.0,617.5L1298.1,619.5L1298.2,621.5L1298.3,623.5L1298.3,625.5L1298.4,627.5L1298.5,629.6L1298.6,631.6L1298.7,633.6L1298.8,635.6L1298.9,637.6L1299.0,639.6L1299.1,641.6L1299.2,643.6L1299.3,645.6L1299.4,647.6L1299.5,649.6L1299.6,651.6L1299.8,653.6L1299.9,655.6L1300.0,657.6L1300.1,659.6L1300.2,661.6L1300.4,663.6L1300.5,665.6L1300.6,667.6L1300.7,669.6L1300.9,671.6L1301.0,673.6L1301.1,675.6L1301.2,677.6L1301.4,679.7L1301.5,681.7L1301.6,683.7L1301.7,685.7L1301.9,687.7L1302.0,689.7L1302.1,691.7L1302.2,693.7L1302.4,695.7L1302.5,697.7L1302.6,699.7L1302.7,701.7L1302.9,703.7L1303.0,705.7L1303.1,707.7L1303.2,709.7L1303.3,711.7L1303.5,713.7L1303.6,715.7L1303.7,717.7L1303.8,719.7L1303.9,721.7L1304.0,723.7L1304.1,725.7L1304.2,727.7L1304.3,729.7L1304.4,731.7L1304.5,733.8L1304.6,735.8L1304.7,737.8L1304.7,739.8L1304.8,741.8L1304.9,743.8L1305.0,745.8L1305.1,747.8L1305.2,749.8L1305.3,751.8L1305.3,753.8L1305.4,755.8L1305.6,757.8L1305.7,759.8L1305.8,761.8L1305.9,763.8L1306.0,765.8L1306.2,767.8L1306.3,769.8L1306.5,771.8L1306.6,773.8L1306.8,775.8L1307.0,777.8L1307.1,779.8L1307.3,781.8L1307.5,783.8L1307.6,785.8L1307.8,787.8L1307.9,789.8L1308.1,791.8L1308.2,793.8L1308.3,795.8L1308.5,797.9L1308.6,799.9L1308.8,801.9L1308.9,803.9L1309.0,805.9L1309.1,807.9L1309.3,809.9L1309.4,811.9L1309.5,813.9L1309.7,815.9L1309.8,817.9L1309.9,819.9L1310.0,821.9L1310.2,823.9L1310.3,825.9L1310.4,827.9L1310.6,829.9L1310.7,831.9L1310.8,833.9L1311.0,835.9L1311.1,837.9L1311.3,839.9L1311.4,841.9L1311.6,843.9L1311.7,845.9L1311.9,847.9L1312.0,849.9L1312.2,851.9L1312.3,853.9L1312.5,855.9L1312.6,857.9L1312.8,859.9L1312.9,861.9L1313.1,863.9L1313.3,865.9L1313.4,867.9L1313.6,869.9L1313.8,871.9L1313.9,873.9L1314.1,875.9L1314.3,877.9L1314.4,879.9L1314.6,881.9L1314.8,883.9L1315.0,885.9L1315.2,887.9L1315.4,889.9L1315.5,891.9L1315.7,893.9L1315.9,895.9L1316.1,897.9L1316.3,899.9L1316.5,901.9L1316.7,903.9L1316.9,905.9L1317.1,907.9L1317.3,909.9L1317.5,911.9L1317.8,913.9L1318.0,915.9L1318.2,917.9L1318.4,919.9L1318.6,921.9L1318.8,923.9L1319.1,925.9L1319.3,927.9L1319.5,929.8L1319.7,931.8L1320.0,933.8L1320.2,935.8L1320.5,937.8L1320.7,939.8L1320.9,941.8L1321.2,943.8L1321.4,945.8L1321.7,947.8L1321.9,949.8L1322.2,951.8L1322.4,953.8L1322.7,955.8L1322.9,957.7L1323.1,959.7L1323.4,961.7L1323.6,963.7L1323.9,965.7L1324.1,967.7L1324.3,969.7L1324.6,971.7L1324.8,973.7L1325.1,975.7L1325.4,977.7L1325.7,979.7L1326.0,981.6L1326.3,983.6L1326.6,985.6L1327.0,987.6L1327.4,989.5L1327.8,991.5L1328.2,993.5L1328.6,995.4L1329.0,997.4L1329.4,999.4L1329.9,1001.3L1330.3,1003.3L1330.8,1005.2L1331.2,1007.2L1331.7,1009.1L1332.2,1011.1L1332.7,1013.0L1333.2,1015.0L1333.7,1016.9L1334.3,1018.9L1334.8,1020.8L1335.4,1022.7L1336.0,1024.6L1336.6,1026.5L1337.2,1028.5L1337.8,1030.4L1338.5,1032.2L1339.2,1034.1L1339.9,1036.0L1340.6,1037.9L1341.3,1039.8L1342.1,1041.6L1342.9,1043.5L1343.7,1045.3L1344.5,1047.2L1345.3,1049.0L1346.2,1050.8L1347.1,1052.6L1348.0,1054.4L1348.9,1056.1L1349.9,1057.9L1350.8,1059.7L1351.7,1061.5L1352.6,1063.3L1353.5,1065.1L1354.4,1067.0L1355.3,1068.8L1356.2,1070.6L1357.1,1072.4L1358.1,1074.2L1359.1,1075.9L1360.2,1077.5L1361.4,1079.0L1362.7,1080.5L1364.2,1081.9L1365.7,1083.2L1367.3,1084.5L1368.9,1085.8L1370.4,1087.0L1372.0,1088.2L1373.7,1089.4L1375.4,1090.5L1377.1,1091.6L1378.7,1092.7L1380.4,1093.8L1382.0,1095.0L1383.6,1096.3L1385.2,1097.6L1386.8,1098.7L1388.5,1099.8L1390.3,1100.6L1392.1,1101.3L1394.1,1101.9L1396.0,1102.5L1398.0,1103.1L1399.9,1103.7L1401.7,1104.5L1403.5,1105.4L1405.2,1106.5L1406.8,1107.6L1408.5,1108.8L1410.2,1109.9L1411.9,1110.8L1413.8,1111.6L1415.6,1112.4L1417.5,1113.1L1419.4,1113.8L1421.3,1114.4L1423.3,1115.0L1425.2,1115.6L1427.1,1116.1L1429.0,1116.7L1431.0,1117.3L1432.9,1117.8L1434.9,1118.2L1436.8,1118.6L1438.8,1119.0L1440.8,1119.2L1442.8,1119.4L1444.8,1119.6L1446.8,1119.8L1448.8,1120.0L1450.8,1120.3L1452.7,1120.6L1454.7,1121.0L1456.7,1121.4L1458.6,1121.9L1460.6,1122.4L1462.5,1122.9L1464.4,1123.5L1466.4,1124.1" stroke="#00f510" stroke-width="3.9" stroke-linejoin="round"/>
<path d="M410.5,1049.0L412.6,1049.0L414.7,1049.0L416.7,1049.0L418.8,1049.0L420.8,1048.9L422.8,1048.9L424.8,1048.9L426.8,1048.9L428.8,1048.8L430.7,1048.8L432.7,1048.8L434.7,1048.7L436.6,1048.7L438.5,1048.4L440.4,1047.5L442.3,1047.0L444.2,1047.5L446.1,1048.3L448.1,1048.9L450.0,1049.0L452.0,1048.9L454.0,1048.9L456.0,1048.8L457.9,1048.7L459.9,1048.6L462.0,1048.6L464.0,1048.4L466.0,1048.3L468.0,1048.2L470.0,1048.1L472.0,1048.1L474.1,1048.0L476.1,1047.9L478.1,1047.9L480.1,1047.8L482.1,1047.8L484.1,1047.8L486.1,1047.9L488.1,1047.9L490.1,1047.9L492.1,1047.9L494.1,1047.9L496.1,1047.9L498.1,1048.0L500.1,1048.0L502.1,1048.0L504.1,1048.0L506.1,1048.0L508.1,1048.1L510.1,1048.1L512.1,1048.1L514.1,1048.1L516.2,1048.1L518.2,1048.1L520.2,1048.2L522.2,1048.2L524.2,1048.2L526.2,1048.2L528.2,1048.1L530.2,1048.1L532.2,1048.1L534.2,1048.0L536.2,1048.0L538.2,1047.9L540.2,1047.9L542.2,1047.8L544.2,1047.7L546.2,1047.6L548.2,1047.6L550.2,1047.5L552.2,1047.4L554.2,1047.3L556.2,1047.2L558.2,1047.1L560.2,1046.9L562.2,1046.8L564.2,1046.6L566.2,1046.3L568.2,1046.1L570.1,1045.8L572.1,1045.5L574.1,1045.2L576.1,1044.9L578.1,1044.6L580.1,1044.4L582.1,1044.1L584.1,1043.9L586.0,1043.6L588.0,1043.4L590.0,1043.1L592.0,1042.9L594.0,1042.6L596.0,1042.3L597.9,1041.9L599.9,1041.4L601.9,1040.9L603.8,1040.4L605.8,1040.0L607.8,1039.6L609.7,1039.3L611.7,1039.0L613.7,1038.9L615.7,1039.0L617.7,1039.1L619.7,1039.2L621.7,1039.4L623.7,1039.6L625.7,1039.7L627.7,1039.7L629.7,1039.7L631.8,1039.7L633.9,1039.6L636.0,1039.5L638.0,1039.4L640.0,1039.2L641.8,1039.1L643.6,1038.8L645.3,1038.1L646.9,1036.7L648.5,1035.2L650.0,1033.8L651.5,1032.4L652.9,1031.0L654.4,1029.5L655.8,1028.1L657.4,1027.0L659.1,1026.1L661.0,1025.1L662.9,1024.5L664.9,1024.4L666.9,1024.9L668.7,1025.7L670.2,1026.7L671.5,1028.1L672.7,1029.8L673.9,1031.6L675.1,1033.3L676.4,1034.9L677.7,1036.4L679.1,1038.0L680.5,1039.5L681.9,1040.8L683.5,1042.0L685.2,1042.9L687.0,1043.9L688.9,1044.6L690.8,1045.2L692.8,1045.5L694.8,1045.7L696.8,1045.9L698.8,1046.3L700.7,1046.6L702.7,1047.0L704.7,1047.2L706.7,1047.3L708.7,1047.4L710.7,1047.4L712.7,1047.5L714.7,1047.5L716.7,1047.6L718.7,1047.6L720.7,1047.6L722.7,1047.7L724.7,1047.7L726.7,1047.7L728.7,1047.7L730.7,1047.8L732.7,1047.8L734.7,1047.8L736.7,1047.8L738.7,1047.8L740.7,1047.8L742.8,1047.7L744.8,1047.6L746.8,1047.4L748.8,1047.3L750.8,1047.1L752.8,1047.0L754.8,1046.8L756.8,1046.7L758.8,1046.6L760.8,1046.5L762.8,1046.5L764.8,1046.5L766.8,1046.5L768.8,1046.6L770.8,1046.7L772.8,1046.8L774.8,1046.9L776.8,1047.0L778.8,1047.1L780.8,1047.2L782.8,1047.2L784.8,1047.3L786.8,1047.3L788.8,1047.3L790.8,1047.3L792.8,1047.3L794.8,1047.3L796.8,1047.3L798.8,1047.3L800.8,1047.3L802.8,1047.3L804.8,1047.3L806.8,1047.3L808.8,1047.3L810.8,1047.3L812.8,1047.3L814.8,1047.3L816.8,1047.3L818.8,1047.3L820.8,1047.3L822.8,1047.3L824.9,1047.3L826.9,1047.2L828.9,1047.2L830.9,1047.1L832.9,1047.1L834.9,1047.0L836.9,1047.0L838.9,1046.9L840.9,1046.8L842.9,1046.7L844.9,1046.6L846.9,1046.5L848.9,1046.4L850.9,1046.2L852.9,1046.1L854.9,1045.9L856.8,1045.6L858.8,1045.3L860.8,1044.9L862.7,1044.5L864.7,1044.0L866.7,1043.6L868.6,1043.2L870.6,1042.7L872.5,1042.1L874.5,1041.6L876.4,1041.0L878.4,1040.6L880.4,1040.4L882.3,1040.3L884.3,1040.4L886.3,1040.5L888.3,1040.7L890.3,1040.9L892.3,1041.3L894.3,1041.7L896.3,1042.1L898.3,1042.4L900.2,1042.4L902.1,1041.8L903.9,1040.9L905.8,1039.9L907.6,1039.1L909.4,1038.0L911.2,1036.8L912.9,1035.8L914.7,1035.2L916.6,1035.3L918.5,1035.9L920.4,1036.8L922.2,1037.7L923.9,1038.9L925.6,1040.1L927.2,1041.2L929.0,1041.8L930.9,1042.1L932.9,1042.4L934.9,1042.6L937.0,1042.8L939.0,1043.0L941.0,1043.2L943.0,1043.4L945.0,1043.7L947.0,1044.0L949.0,1044.2L951.0,1044.5L953.0,1044.7L955.0,1044.8L957.0,1044.9L959.0,1044.9L961.0,1044.8L963.0,1044.8L965.0,1044.8L967.0,1044.7L969.0,1044.6L971.0,1044.6L973.0,1044.5L975.0,1044.4L977.0,1044.3L979.0,1044.2L981.0,1044.1L983.0,1044.0L985.0,1043.9L987.0,1043.8L989.0,1043.7L991.0,1043.6L993.0,1043.5L995.0,1043.4L997.0,1043.2L999.0,1043.1L1001.0,1042.9L1003.0,1042.7L1005.0,1042.6L1007.0,1042.4L1009.0,1042.3L1011.0,1042.1L1013.0,1042.0L1015.0,1041.9L1017.0,1041.9L1019.0,1041.9L1021.0,1041.9L1023.0,1042.1L1025.0,1042.2L1027.0,1042.3L1029.0,1042.5L1031.0,1042.6L1033.0,1042.7L1035.0,1042.7L1037.0,1042.6L1039.0,1042.4L1041.0,1042.2L1042.9,1041.8L1044.9,1041.4L1046.9,1041.1L1048.9,1040.7L1050.9,1040.3L1052.8,1039.9L1054.8,1039.7L1056.8,1039.5L1058.8,1039.4L1060.8,1039.3L1062.8,1039.2L1064.8,1039.2L1066.8,1039.1L1068.8,1039.1L1070.8,1039.0L1072.9,1039.0L1074.9,1038.9L1076.9,1038.8L1078.8,1038.7L1080.8,1038.6L1082.8,1038.4L1084.8,1038.1L1086.7,1037.8L1088.7,1037.3L1090.6,1036.9L1092.6,1036.4L1094.5,1035.9L1096.5,1035.4L1098.4,1034.8L1100.4,1034.3L1102.3,1033.8L1104.3,1033.3L1106.3,1032.9L1108.2,1032.5L1110.2,1032.1L1112.2,1031.8L1114.2,1031.4L1116.1,1031.1L1118.1,1030.7L1120.0,1030.2L1122.0,1029.8L1123.9,1029.3L1125.8,1028.7L1127.7,1028.0L1129.6,1027.3L1131.5,1026.6L1133.4,1025.9L1135.2,1025.2L1137.1,1024.5L1139.0,1023.8L1140.9,1023.2L1142.8,1022.6L1144.7,1021.9L1146.6,1021.3L1148.5,1020.6L1150.4,1020.0L1152.3,1019.3L1154.1,1018.6L1156.0,1017.8L1157.8,1017.0L1159.7,1016.2L1161.5,1015.3L1163.4,1014.5L1165.2,1013.6L1166.9,1012.6L1168.6,1011.6L1170.3,1010.6L1172.0,1009.5L1173.6,1008.3L1175.1,1007.1L1176.7,1005.8L1178.2,1004.4L1179.6,1003.0L1181.1,1001.6L1182.5,1000.2L1183.9,998.8L1185.3,997.3L1186.7,995.9L1188.0,994.4L1189.3,992.9L1190.6,991.3L1191.9,989.7L1193.1,988.1L1194.3,986.5L1195.4,984.9L1196.5,983.2L1197.5,981.5L1198.6,979.8L1199.6,978.0L1200.6,976.3L1201.6,974.6L1202.7,972.9L1203.7,971.2L1204.8,969.4L1205.8,967.7L1206.8,966.0L1207.6,964.2L1208.4,962.4L1209.2,960.5L1210.0,958.7L1210.7,956.8L1211.4,954.9L1212.0,953.0L1212.7,951.1L1213.3,949.2L1213.9,947.3L1214.5,945.4L1215.1,943.4L1215.7,941.5L1216.3,939.6L1216.9,937.7L1217.4,935.8L1218.0,933.9L1218.5,931.9L1219.1,930.0L1219.6,928.1L1220.1,926.1L1220.6,924.2L1221.1,922.2L1221.6,920.3L1222.0,918.3L1222.5,916.4L1222.9,914.4L1223.3,912.5L1223.7,910.5L1224.1,908.5L1224.5,906.6L1224.9,904.6L1225.2,902.6L1225.6,900.7L1225.9,898.7L1226.3,896.7L1226.6,894.7L1226.9,892.8L1227.3,890.8L1227.6,888.8L1227.9,886.8L1228.2,884.8L1228.5,882.9L1228.8,880.9L1229.0,878.9L1229.3,876.9L1229.6,874.9L1229.8,872.9L1230.1,870.9L1230.3,869.0L1230.6,867.0L1230.8,865.0L1231.1,863.0L1231.3,861.0L1231.5,859.0L1231.8,857.0L1232.0,855.0L1232.2,853.0L1232.4,851.0L1232.6,849.1L1232.9,847.1L1233.1,845.1L1233.3,843.1L1233.5,841.1L1233.7,839.1L1233.9,837.1L1234.2,835.1L1234.4,833.1L1234.6,831.1L1234.8,829.1L1235.0,827.1L1235.2,825.1L1235.4,823.2L1235.6,821.2L1235.8,819.2L1236.0,817.2L1236.2,815.2L1236.4,813.2L1236.6,811.2L1236.8,809.2L1237.0,807.2L1237.1,805.2L1237.3,803.2L1237.5,801.2L1237.7,799.2L1237.9,797.2L1238.0,795.2L1238.2,793.2L1238.4,791.2L1238.5,789.2L1238.7,787.2L1238.8,785.2L1239.0,783.2L1239.1,781.2L1239.3,779.2L1239.4,777.3L1239.6,775.3L1239.7,773.3L1239.9,771.3L1240.1,769.3L1240.2,767.3L1240.4,765.3L1240.5,763.3L1240.7,761.3L1240.9,759.3L1241.0,757.3L1241.2,755.3L1241.4,753.3L1241.6,751.3L1241.8,749.3L1242.0,747.3L1242.2,745.3L1242.4,743.3L1242.6,741.3L1242.8,739.3L1243.0,737.3L1243.1,735.3L1243.3,733.3L1243.5,731.3L1243.7,729.4L1243.8,727.4L1244.0,725.4L1244.1,723.4L1244.3,721.4L1244.4,719.4L1244.6,717.4L1244.7,715.4L1244.9,713.4L1245.0,711.4L1245.1,709.4L1245.3,707.4L1245.4,705.4L1245.5,703.4L1245.7,701.4L1245.8,699.4L1245.9,697.4L1246.0,695.4L1246.2,693.4L1246.3,691.4L1246.4,689.4L1246.5,687.4L1246.7,685.4L1246.8,683.4L1246.9,681.4L1247.0,679.4L1247.1,677.4L1247.2,675.4L1247.3,673.4L1247.5,671.4L1247.6,669.4L1247.7,667.4L1247.8,665.4L1247.9,663.4L1248.0,661.4L1248.1,659.4L1248.2,657.4L1248.3,655.4L1248.5,653.4L1248.6,651.4L1248.7,649.4L1248.8,647.4L1248.9,645.4L1249.0,643.4L1249.1,641.4L1249.2,639.4L1249.3,637.4L1249.4,635.4L1249.5,633.4L1249.6,631.4L1249.7,629.4L1249.8,627.4L1249.9,625.4L1250.0,623.4L1250.1,621.4L1250.2,619.4L1250.3,617.4L1250.4,615.4L1250.5,613.4L1250.6,611.4L1250.7,609.4L1250.8,607.4L1250.9,605.4L1251.0,603.4L1251.1,601.3L1251.1,599.3L1251.2,597.3L1251.3,595.3L1251.4,593.3L1251.5,591.3L1251.6,589.3L1251.7,587.3L1251.8,585.3L1251.9,583.3L1252.0,581.3L1252.0,579.3L1252.1,577.3L1252.2,575.3L1252.3,573.3L1252.4,571.3L1252.5,569.3L1252.6,567.3L1252.7,565.3L1252.7,563.3L1252.8,561.3L1252.9,559.3L1253.0,557.3L1253.1,555.3L1253.1,553.3L1253.2,551.3L1253.3,549.3L1253.4,547.3L1253.5,545.3L1253.5,543.3L1253.6,541.3L1253.7,539.3L1253.8,537.3" stroke="#0000f5" stroke-width="3.9" stroke-linejoin="round"/>
<path d="M1305.7,537.3L1305.8,539.3L1305.8,541.3L1305.9,543.3L1306.0,545.3L1306.1,547.3L1306.2,549.3L1306.3,551.3L1306.3,553.3L1306.4,555.3L1306.5,557.4L1306.6,559.4L1306.7,561.4L1306.8,563.4L1306.8,565.4L1306.9,567.4L1307.0,569.4L1307.1,571.4L1307.2,573.4L1307.3,575.4L1307.4,577.4L1307.4,579.4L1307.5,581.4L1307.6,583.4L1307.7,585.4L1307.8,587.4L1307.9,589.4L1308.0,591.4L1308.0,593.4L1308.1,595.4L1308.2,597.5L1308.3,599.5L1308.4,601.5L1308.5,603.5L1308.6,605.5L1308.7,607.5L1308.8,609.5L1308.8,611.5L1308.9,613.5L1309.0,615.5L1309.1,617.5L1309.2,619.5L1309.3,621.5L1309.4,623.5L1309.5,625.5L1309.6,627.5L1309.6,629.5L1309.7,631.5L1309.8,633.5L1309.9,635.5L1310.0,637.6L1310.1,639.6L1310.2,641.6L1310.3,643.6L1310.4,645.6L1310.5,647.6L1310.6,649.6L1310.7,651.6L1310.7,653.6L1310.8,655.6L1310.9,657.6L1311.0,659.6L1311.1,661.6L1311.2,663.6L1311.3,665.6L1311.4,667.6L1311.5,669.6L1311.5,671.6L1311.6,673.6L1311.7,675.7L1311.8,677.7L1311.9,679.7L1312.0,681.7L1312.0,683.7L1312.1,685.7L1312.2,687.7L1312.3,689.7L1312.4,691.7L1312.5,693.7L1312.6,695.7L1312.7,697.7L1312.8,699.7L1312.9,701.7L1313.0,703.7L1313.1,705.7L1313.3,707.7L1313.4,709.7L1313.5,711.7L1313.7,713.7L1313.9,715.7L1314.1,717.7L1314.3,719.7L1314.6,721.7L1314.8,723.7L1315.0,725.7L1315.2,727.7L1315.4,729.7L1315.6,731.7L1315.8,733.7L1315.9,735.7L1316.1,737.7L1316.2,739.7L1316.2,741.7L1316.3,743.7L1316.4,745.7L1316.4,747.7L1316.4,749.7L1316.5,751.7L1316.5,753.7L1316.5,755.7L1316.6,757.8L1316.6,759.8L1316.6,761.8L1316.7,763.8L1316.7,765.8L1316.7,767.8L1316.7,769.8L1316.8,771.8L1316.8,773.8L1316.8,775.8L1316.9,777.8L1316.9,779.8L1317.0,781.8L1317.0,783.8L1317.1,785.9L1317.1,787.9L1317.2,789.9L1317.3,791.9L1317.4,793.9L1317.5,795.9L1317.6,797.9L1317.7,799.9L1317.8,801.9L1318.0,803.9L1318.1,805.9L1318.2,807.9L1318.4,809.9L1318.5,811.9L1318.6,813.9L1318.8,815.9L1318.9,817.9L1319.1,819.9L1319.2,821.9L1319.4,823.9L1319.5,825.9L1319.7,827.9L1319.9,829.9L1320.0,831.9L1320.2,833.9L1320.4,835.9L1320.6,837.9L1320.8,839.9L1321.0,841.9L1321.2,843.9L1321.4,845.9L1321.7,847.9L1321.9,849.9L1322.1,851.9L1322.3,853.9L1322.5,855.9L1322.8,857.9L1323.0,859.9L1323.2,861.9L1323.4,863.9L1323.7,865.8L1323.9,867.8L1324.1,869.8L1324.4,871.8L1324.6,873.8L1324.9,875.8L1325.1,877.8L1325.4,879.8L1325.6,881.8L1325.9,883.8L1326.2,885.8L1326.5,887.7L1326.8,889.7L1327.0,891.7L1327.3,893.7L1327.7,895.7L1328.0,897.7L1328.3,899.7L1328.6,901.6L1328.9,903.6L1329.3,905.6L1329.6,907.6L1330.0,909.5L1330.4,911.5L1330.7,913.5L1331.1,915.5L1331.5,917.4L1331.9,919.4L1332.3,921.4L1332.7,923.3L1333.1,925.3L1333.5,927.3L1334.0,929.2L1334.4,931.2L1334.9,933.1L1335.4,935.1L1335.9,937.0L1336.4,939.0L1336.9,940.9L1337.4,942.9L1337.9,944.8L1338.4,946.7L1339.0,948.7L1339.5,950.6L1340.1,952.5L1340.6,954.4L1341.2,956.4L1341.9,958.3L1342.5,960.2L1343.3,962.0L1344.0,963.9L1344.8,965.7L1345.7,967.5L1346.5,969.4L1347.4,971.2L1348.3,973.0L1349.3,974.7L1350.2,976.5L1351.2,978.2L1352.2,980.0L1353.2,981.7L1354.2,983.5L1355.2,985.2L1356.1,987.0L1357.1,988.8L1358.0,990.6L1359.0,992.3L1360.0,994.0L1361.1,995.7L1362.2,997.4L1363.4,999.0L1364.7,1000.6L1365.9,1002.1L1367.3,1003.6L1368.7,1005.0L1370.2,1006.4L1371.7,1007.7L1373.3,1009.0L1374.9,1010.2L1376.4,1011.4L1378.0,1012.6L1379.6,1013.9L1381.3,1015.1L1382.9,1016.2L1384.6,1017.4L1386.3,1018.5L1388.0,1019.5L1389.7,1020.5L1391.4,1021.5L1393.2,1022.4L1395.0,1023.2L1396.8,1024.0L1398.7,1024.8L1400.6,1025.6L1402.4,1026.4L1404.3,1027.1L1406.2,1027.8L1408.1,1028.5L1409.9,1029.3L1411.8,1030.0L1413.7,1030.7L1415.6,1031.4L1417.5,1032.1L1419.4,1032.8L1421.3,1033.4L1423.2,1034.0L1425.1,1034.5L1427.1,1035.0L1429.0,1035.4L1431.0,1035.7L1433.0,1036.1L1435.0,1036.4L1436.9,1036.8L1438.9,1037.3L1440.8,1037.9L1442.7,1038.5L1444.6,1039.2L1446.6,1039.9L1448.5,1040.4L1450.4,1040.9L1452.4,1041.2L1454.3,1041.5L1456.3,1041.7L1458.3,1041.9L1460.3,1042.1L1462.3,1042.3L1464.3,1042.3L1466.4,1042.4" stroke="#0000f5" stroke-width="3.9" stroke-linejoin="round"/>
<path d="M413.0,936.0L415.4,937.3L423.5,953.8L429.5,955.1L437.0,937.3L443.8,953.8L451.1,954.8L459.2,951.6L464.9,950.3L471.4,951.1L485.1,960.8L493.2,948.6L498.9,942.2L505.7,953.5L512.7,911.4L520.0,949.5L526.5,957.9L533.0,957.9L540.3,944.6L547.2,963.2L553.2,952.7L560.9,957.9L568.2,934.9L574.6,955.9L581.6,923.0L588.4,961.3L595.4,945.4L601.1,945.4L605.1,941.4L609.2,934.9L615.7,905.7L623.0,911.7L629.5,883.8L636.8,868.4L644.1,827.0L650.5,826.2L657.8,870.8L664.3,903.6L670.8,904.1L678.1,926.8L683.8,925.1L691.1,934.9L697.3,932.7L705.4,952.2L711.9,934.3L719.2,949.7L726.5,953.3L732.5,947.3L739.8,970.0L745.9,961.1L753.6,948.1L760.2,975.7L767.0,954.3L774.3,959.0L780.0,959.8L787.3,954.3L793.8,959.5L801.1,966.8L808.4,939.2L814.9,957.8L821.4,959.5L827.8,949.7L835.1,923.8L841.6,930.3L848.9,944.1L855.7,934.3L862.7,954.9L869.5,935.1L876.2,953.8L883.0,938.4L889.5,943.2L896.3,965.1L902.4,958.6L910.2,935.1L917.0,940.8L924.3,948.9L930.8,946.5L937.6,961.4L944.6,956.2L951.4,940.0L958.4,941.6L964.9,951.0L971.8,927.0L978.4,953.2L985.4,953.2L992.2,984.9L999.2,960.5L1005.4,957.0L1012.2,961.0L1019.1,954.1L1025.9,958.1L1039.4,969.8L1047.0,958.1L1053.2,955.2L1060.0,943.5L1066.5,948.4L1080.3,924.9L1087.1,947.9L1093.6,954.1L1101.4,945.9L1107.8,943.2L1112.7,940.3L1120.8,932.2L1127.3,928.9L1134.6,907.0L1141.4,925.7L1148.1,913.0L1154.9,914.3L1161.4,898.4L1168.6,897.3L1175.1,876.5L1182.4,874.9L1188.9,875.7L1195.4,841.4L1201.9,813.8L1209.2,810.5L1215.7,769.7L1221.8,724.6L1227.0,675.9L1231.1,627.3L1234.3,578.6L1236.3,537.3" stroke="#8000ff" stroke-width="4.0" stroke-linejoin="miter" stroke-miterlimit="3" stroke-linecap="butt"/>
<path d="M1295.1,537.3L1297.6,594.9L1301.6,643.5L1305.7,692.2L1311.4,732.7L1317.8,776.2L1322.7,808.6L1330.8,824.1L1336.5,867.0L1343.8,858.9L1350.3,861.4L1357.1,876.8L1364.1,885.7L1370.5,892.2L1377.0,922.2L1383.5,927.8L1390.8,913.2L1397.3,909.2L1403.8,936.8L1410.3,917.0L1416.8,922.2L1424.1,927.8L1430.5,921.4L1437.5,953.0L1444.3,940.0L1450.8,944.1L1457.3,949.7L1466.2,947.3" stroke="#8000ff" stroke-width="4.0" stroke-linejoin="miter" stroke-miterlimit="3" stroke-linecap="butt"/>
</g>
<text transform="translate(654.0,808.2) scale(1.04,1.0)" font-family='"Liberation Sans", sans-serif' font-weight="bold" font-size="28" fill="#000" text-anchor="start" >R</text>
<text transform="translate(424.6,1214.2) scale(1.04,1.0)" font-family='"Liberation Sans", sans-serif' font-weight="bold" font-size="28" fill="#000" text-anchor="start" >R</text>
<text transform="translate(829.8,1200.6) scale(1.04,1.0)" font-family='"Liberation Sans", sans-serif' font-weight="bold" font-size="28" fill="#000" text-anchor="start" >R</text>
<text transform="translate(919.0,1024.6) scale(1.04,1.0)" font-family='"Liberation Sans", sans-serif' font-weight="bold" font-size="28" fill="#000" text-anchor="start" >R</text>
<text transform="translate(919.0,1239.0) scale(1.04,1.0)" font-family='"Liberation Sans", sans-serif' font-weight="bold" font-size="28" fill="#000" text-anchor="start" >R</text>
<text transform="translate(1066.3,1174.1) scale(1.04,1.0)" font-family='"Liberation Sans", sans-serif' font-weight="bold" font-size="28" fill="#000" text-anchor="start" >R</text>
<text transform="translate(1168.3,1124.1) scale(1.04,1.0)" font-family='"Liberation Sans", sans-serif' font-weight="bold" font-size="28" fill="#000" text-anchor="start" >R</text>
<text transform="translate(557.0,1182.0) scale(1.04,1.0)" font-family='"Liberation Sans", sans-serif' font-weight="bold" font-size="28" fill="#000" text-anchor="start" >D-like</text>
<line x1="513.5" y1="1211.0" x2="665.0" y2="955.0" stroke="#000" stroke-width="3.2" stroke-dasharray="14 11"/>
<line x1="639.3" y1="733.0" x2="676.6" y2="1316.0" stroke="#000" stroke-width="4.0" stroke-dasharray="9.6 8.6"/>
<line x1="896.3" y1="889.0" x2="867.6" y2="1303.0" stroke="#000" stroke-width="4.0" stroke-dasharray="9.6 8.6"/>
<line x1="911.3" y1="955.0" x2="922.4" y2="1194.0" stroke="#000" stroke-width="4.0" stroke-dasharray="9.6 8.6"/>
<line x1="958.5" y1="966.0" x2="927.4" y2="1311.0" stroke="#000" stroke-width="4.0" stroke-dasharray="9.6 8.6"/>
<rect x="411.0" y="537.3" width="1055.3" height="837.7" fill="none" stroke="#000" stroke-width="4"/>
<line x1="595.0" y1="1375.0" x2="595.0" y2="1358" stroke="#000" stroke-width="4" stroke-linecap="round"/>
<line x1="839.6" y1="1375.0" x2="839.6" y2="1358" stroke="#000" stroke-width="4" stroke-linecap="round"/>
<line x1="1083.8" y1="1375.0" x2="1083.8" y2="1358" stroke="#000" stroke-width="4" stroke-linecap="round"/>
<line x1="1328.5" y1="1375.0" x2="1328.5" y2="1358" stroke="#000" stroke-width="4" stroke-linecap="round"/>
<line x1="472.0" y1="1375.0" x2="472.0" y2="1366" stroke="#000" stroke-width="4" stroke-linecap="round"/>
<line x1="716.6" y1="1375.0" x2="716.6" y2="1366" stroke="#000" stroke-width="4" stroke-linecap="round"/>
<line x1="961.5" y1="1375.0" x2="961.5" y2="1366" stroke="#000" stroke-width="4" stroke-linecap="round"/>
<line x1="1206.5" y1="1375.0" x2="1206.5" y2="1366" stroke="#000" stroke-width="4" stroke-linecap="round"/>
<line x1="1451.0" y1="1375.0" x2="1451.0" y2="1366" stroke="#000" stroke-width="4" stroke-linecap="round"/>
<text transform="translate(595.0,1426.8)" font-family='"Liberation Sans", sans-serif' font-weight="bold" font-size="45.5" fill="#000" text-anchor="middle" >1360</text>
<text transform="translate(839.6,1426.8)" font-family='"Liberation Sans", sans-serif' font-weight="bold" font-size="45.5" fill="#000" text-anchor="middle" >1440</text>
<text transform="translate(1083.8,1426.8)" font-family='"Liberation Sans", sans-serif' font-weight="bold" font-size="45.5" fill="#000" text-anchor="middle" >1520</text>
<text transform="translate(1328.5,1426.8)" font-family='"Liberation Sans", sans-serif' font-weight="bold" font-size="45.5" fill="#000" text-anchor="middle" >1600</text>
<rect x="410.6" y="537.2" width="455.6" height="194.6" fill="#fff" stroke="#111" stroke-width="1.6"/>
<line x1="428" y1="560.4" x2="503.5" y2="560.4" stroke="#ff0000" stroke-width="4"/>
<text transform="translate(509.5,570.2) scale(1.04,1.0)" font-family='"Liberation Sans", sans-serif' font-weight="bold" font-size="27" fill="#000" text-anchor="start" >1.95 eV</text>
<line x1="428" y1="598.5" x2="503.5" y2="598.5" stroke="#00f510" stroke-width="4"/>
<text transform="translate(509.5,608.6) scale(1.04,1.0)" font-family='"Liberation Sans", sans-serif' font-weight="bold" font-size="27" fill="#000" text-anchor="start" >2.33 eV</text>
<line x1="428" y1="637.2" x2="503.5" y2="637.2" stroke="#0000f5" stroke-width="4"/>
<text transform="translate(509.5,647.3) scale(1.04,1.0)" font-family='"Liberation Sans", sans-serif' font-weight="bold" font-size="27" fill="#000" text-anchor="start" >2.71 eV</text>
<line x1="428" y1="675.8" x2="503.5" y2="675.8" stroke="#8000ff" stroke-width="4"/>
<text transform="translate(509.5,686.2) scale(1.04,1.0)" font-family='"Liberation Sans", sans-serif' font-weight="bold" font-size="27" fill="#000" text-anchor="start" >3.05 eV</text>
<line x1="428" y1="714.7" x2="503.5" y2="714.7" stroke="#0b7d14" stroke-width="4"/>
<text transform="translate(509.5,724.6) scale(1.04,1.0)" font-family='"Liberation Sans", sans-serif' font-weight="bold" font-size="27" fill="#000" text-anchor="start" >Intensity Reduced G-Peak</text>
<text transform="translate(1335.5,1348.0)" font-family='"Liberation Sans", sans-serif' font-weight="normal" font-size="38" fill="#000" text-anchor="start" >×</text>
<text transform="translate(1369.0,1345.6)" font-family='"Liberation Sans", sans-serif' font-weight="bold" font-size="40" fill="#000" text-anchor="start" >10</text>
<text transform="translate(1414.0,1333.0) scale(1.05,1.0)" font-family='"Liberation Sans", sans-serif' font-weight="bold" font-size="40" fill="#000" text-anchor="start" >-3</text>
<text transform="translate(330.2,1186.5) rotate(-90) scale(1.0,1.085)" font-family='"Liberation Sans", sans-serif' font-weight="bold" font-size="63" fill="#000" text-anchor="start" >Intensity (a.u.)</text>
<text transform="translate(644.0,1531.7) scale(1.02,1.0)" font-family='"Liberation Sans", sans-serif' font-weight="bold" font-size="63" fill="#000" text-anchor="start" >Raman Shift (cm</text>
<text transform="translate(1154.0,1510.0) scale(1.02,1.0)" font-family='"Liberation Sans", sans-serif' font-weight="bold" font-size="60" fill="#000" text-anchor="start" >-1</text>
<text transform="translate(1212.0,1531.7) scale(1.02,1.0)" font-family='"Liberation Sans", sans-serif' font-weight="bold" font-size="63" fill="#000" text-anchor="start" >)</text>
<text transform="translate(273.0,594.0) scale(1.045,1.0)" font-family='"Liberation Serif", serif' font-weight="bold" font-size="56" fill="#000" text-anchor="start" >(d)</text>
</g>
</svg></body></html>
